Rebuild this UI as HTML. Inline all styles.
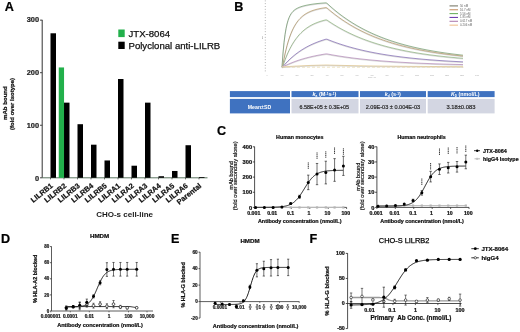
<!DOCTYPE html>
<html><head><meta charset="utf-8"><style>
html,body{margin:0;padding:0;background:#fff;width:520px;height:332px;overflow:hidden}
svg{display:block;font-family:"Liberation Sans", Arial, sans-serif}
</style></head><body>
<svg width="520" height="332" viewBox="0 0 520 332">
<rect width="520" height="332" fill="#fff"/>
<text x="4.80" y="10.80" font-size="12.6" font-weight="bold" text-anchor="start" fill="#000" stroke="#000" stroke-width="0.22">A</text>
<text x="234.30" y="10.80" font-size="12.6" font-weight="bold" text-anchor="start" fill="#000" stroke="#000" stroke-width="0.22">B</text>
<text x="217.00" y="135.20" font-size="12.6" font-weight="bold" text-anchor="start" fill="#000" stroke="#000" stroke-width="0.22">C</text>
<text x="1.00" y="242.80" font-size="12.6" font-weight="bold" text-anchor="start" fill="#000" stroke="#000" stroke-width="0.22">D</text>
<text x="170.90" y="243.00" font-size="12.6" font-weight="bold" text-anchor="start" fill="#000" stroke="#000" stroke-width="0.22">E</text>
<text x="309.60" y="242.80" font-size="12.6" font-weight="bold" text-anchor="start" fill="#000" stroke="#000" stroke-width="0.22">F</text>
<line x1="42.20" y1="19.85" x2="42.20" y2="177.80" stroke="#333" stroke-width="1.0"/>
<line x1="40.00" y1="20.15" x2="42.20" y2="20.15" stroke="#333" stroke-width="0.9"/>
<text x="39.00" y="21.85" font-size="7.4" font-weight="bold" text-anchor="end" fill="#222" stroke="#222" stroke-width="0.22">300</text>
<line x1="40.00" y1="72.70" x2="42.20" y2="72.70" stroke="#333" stroke-width="0.9"/>
<text x="39.00" y="75.00" font-size="7.4" font-weight="bold" text-anchor="end" fill="#222" stroke="#222" stroke-width="0.22">200</text>
<line x1="40.00" y1="125.25" x2="42.20" y2="125.25" stroke="#333" stroke-width="0.9"/>
<text x="39.00" y="128.15" font-size="7.4" font-weight="bold" text-anchor="end" fill="#222" stroke="#222" stroke-width="0.22">100</text>
<line x1="40.00" y1="177.80" x2="42.20" y2="177.80" stroke="#333" stroke-width="0.9"/>
<text x="39.00" y="181.30" font-size="7.4" font-weight="bold" text-anchor="end" fill="#222" stroke="#222" stroke-width="0.22">0</text>
<line x1="42.20" y1="177.80" x2="207.50" y2="177.80" stroke="#4a6650" stroke-width="0.9"/>
<rect x="50.50" y="33.29" width="5.50" height="144.51" fill="#000"/>
<line x1="50.50" y1="177.80" x2="50.50" y2="179.40" stroke="#333" stroke-width="0.7"/>
<text x="53.45" y="186.60" font-size="7.4" font-weight="bold" text-anchor="end" fill="#111" transform="rotate(-39 53.45 186.60)" stroke="#111" stroke-width="0.22">LILRB1</text>
<rect x="64.00" y="102.65" width="5.50" height="75.15" fill="#000"/>
<line x1="64.00" y1="177.80" x2="64.00" y2="179.40" stroke="#333" stroke-width="0.7"/>
<text x="66.95" y="186.60" font-size="7.4" font-weight="bold" text-anchor="end" fill="#111" transform="rotate(-39 66.95 186.60)" stroke="#111" stroke-width="0.22">LILRB2</text>
<rect x="77.50" y="124.20" width="5.50" height="53.60" fill="#000"/>
<line x1="77.50" y1="177.80" x2="77.50" y2="179.40" stroke="#333" stroke-width="0.7"/>
<text x="80.45" y="186.60" font-size="7.4" font-weight="bold" text-anchor="end" fill="#111" transform="rotate(-39 80.45 186.60)" stroke="#111" stroke-width="0.22">LILRB3</text>
<rect x="91.00" y="144.69" width="5.50" height="33.11" fill="#000"/>
<line x1="91.00" y1="177.80" x2="91.00" y2="179.40" stroke="#333" stroke-width="0.7"/>
<text x="93.95" y="186.60" font-size="7.4" font-weight="bold" text-anchor="end" fill="#111" transform="rotate(-39 93.95 186.60)" stroke="#111" stroke-width="0.22">LILRB4</text>
<rect x="104.50" y="160.46" width="5.50" height="17.34" fill="#000"/>
<line x1="104.50" y1="177.80" x2="104.50" y2="179.40" stroke="#333" stroke-width="0.7"/>
<text x="107.45" y="186.60" font-size="7.4" font-weight="bold" text-anchor="end" fill="#111" transform="rotate(-39 107.45 186.60)" stroke="#111" stroke-width="0.22">LILRB5</text>
<rect x="118.00" y="79.01" width="5.50" height="98.79" fill="#000"/>
<line x1="118.00" y1="177.80" x2="118.00" y2="179.40" stroke="#333" stroke-width="0.7"/>
<text x="120.95" y="186.60" font-size="7.4" font-weight="bold" text-anchor="end" fill="#111" transform="rotate(-39 120.95 186.60)" stroke="#111" stroke-width="0.22">LILRA1</text>
<rect x="131.50" y="165.71" width="5.50" height="12.09" fill="#000"/>
<line x1="131.50" y1="177.80" x2="131.50" y2="179.40" stroke="#333" stroke-width="0.7"/>
<text x="134.45" y="186.60" font-size="7.4" font-weight="bold" text-anchor="end" fill="#111" transform="rotate(-39 134.45 186.60)" stroke="#111" stroke-width="0.22">LILRA2</text>
<rect x="145.00" y="102.65" width="5.50" height="75.15" fill="#000"/>
<line x1="145.00" y1="177.80" x2="145.00" y2="179.40" stroke="#333" stroke-width="0.7"/>
<text x="147.95" y="186.60" font-size="7.4" font-weight="bold" text-anchor="end" fill="#111" transform="rotate(-39 147.95 186.60)" stroke="#111" stroke-width="0.22">LILRA3</text>
<rect x="158.50" y="176.22" width="5.50" height="1.58" fill="#000"/>
<line x1="158.50" y1="177.80" x2="158.50" y2="179.40" stroke="#333" stroke-width="0.7"/>
<text x="161.45" y="186.60" font-size="7.4" font-weight="bold" text-anchor="end" fill="#111" transform="rotate(-39 161.45 186.60)" stroke="#111" stroke-width="0.22">LILRA4</text>
<rect x="172.00" y="170.97" width="5.50" height="6.83" fill="#000"/>
<line x1="172.00" y1="177.80" x2="172.00" y2="179.40" stroke="#333" stroke-width="0.7"/>
<text x="174.95" y="186.60" font-size="7.4" font-weight="bold" text-anchor="end" fill="#111" transform="rotate(-39 174.95 186.60)" stroke="#111" stroke-width="0.22">LILRA5</text>
<rect x="185.50" y="145.22" width="5.50" height="32.58" fill="#000"/>
<line x1="185.50" y1="177.80" x2="185.50" y2="179.40" stroke="#333" stroke-width="0.7"/>
<text x="188.45" y="186.60" font-size="7.4" font-weight="bold" text-anchor="end" fill="#111" transform="rotate(-39 188.45 186.60)" stroke="#111" stroke-width="0.22">LILRA6</text>
<rect x="199.00" y="177.01" width="5.50" height="0.79" fill="#000"/>
<line x1="199.00" y1="177.80" x2="199.00" y2="179.40" stroke="#333" stroke-width="0.7"/>
<text x="201.95" y="186.60" font-size="7.4" font-weight="bold" text-anchor="end" fill="#111" transform="rotate(-39 201.95 186.60)" stroke="#111" stroke-width="0.22">Parental</text>
<rect x="58.75" y="67.45" width="5.30" height="110.35" fill="#22b04b"/>
<rect x="118.30" y="29.50" width="6.40" height="7.60" fill="#22b04b"/>
<text x="128.50" y="36.50" font-size="9.6" text-anchor="start" fill="#111" stroke="#111" stroke-width="0.25">JTX-8064</text>
<rect x="118.30" y="41.70" width="6.40" height="7.30" fill="#000"/>
<text x="128.50" y="48.50" font-size="9.6" text-anchor="start" fill="#111" stroke="#111" stroke-width="0.25">Polyclonal anti-LILRB</text>
<text x="6.60" y="103.10" font-size="6.1" font-weight="bold" text-anchor="middle" fill="#111" transform="rotate(-90 6.60 103.10)" stroke="#111" stroke-width="0.22">mAb bound</text>
<text x="13.70" y="104.00" font-size="6.0" font-weight="bold" text-anchor="middle" fill="#111" transform="rotate(-90 13.70 104.00)" stroke="#111" stroke-width="0.22">(fold over Isotype)</text>
<text x="124.60" y="217.00" font-size="8.0" font-weight="bold" text-anchor="middle" fill="#1a1a1a" stroke-width="0">CHO-s cell-line</text>
<line x1="265.30" y1="0.50" x2="265.30" y2="73.00" stroke="#8a8a8a" stroke-width="0.8" stroke-dasharray="0.8,2.0"/>
<text x="267.00" y="75.80" font-size="1.9" text-anchor="middle" fill="#a8a8a8">0</text>
<text x="282.00" y="75.80" font-size="1.9" text-anchor="middle" fill="#a8a8a8">100</text>
<text x="297.00" y="75.80" font-size="1.9" text-anchor="middle" fill="#a8a8a8">200</text>
<text x="312.00" y="75.80" font-size="1.9" text-anchor="middle" fill="#a8a8a8">300</text>
<text x="327.00" y="75.80" font-size="1.9" text-anchor="middle" fill="#a8a8a8">400</text>
<text x="342.00" y="75.80" font-size="1.9" text-anchor="middle" fill="#a8a8a8">500</text>
<text x="357.00" y="75.80" font-size="1.9" text-anchor="middle" fill="#a8a8a8">600</text>
<text x="372.00" y="75.80" font-size="1.9" text-anchor="middle" fill="#a8a8a8">700</text>
<text x="387.00" y="75.80" font-size="1.9" text-anchor="middle" fill="#a8a8a8">800</text>
<text x="402.00" y="75.80" font-size="1.9" text-anchor="middle" fill="#a8a8a8">900</text>
<text x="417.00" y="75.80" font-size="1.9" text-anchor="middle" fill="#a8a8a8">1000</text>
<text x="432.00" y="75.80" font-size="1.9" text-anchor="middle" fill="#a8a8a8">1100</text>
<text x="447.00" y="75.80" font-size="1.9" text-anchor="middle" fill="#a8a8a8">1200</text>
<text x="462.00" y="75.80" font-size="1.9" text-anchor="middle" fill="#a8a8a8">1300</text>
<text x="477.00" y="75.80" font-size="1.9" text-anchor="middle" fill="#a8a8a8">1400</text>
<text x="262.60" y="37.50" font-size="2.4" text-anchor="middle" fill="#888" transform="rotate(-90 262.60 37.50)">RU</text>
<text x="372.00" y="77.60" font-size="2.2" text-anchor="middle" fill="#aaa">Time (s)</text>
<polyline points="282.00,67.00 283.00,53.07 284.00,42.58 285.00,34.65 286.00,28.61 287.00,24.00 288.00,20.45 289.00,17.68 290.00,15.52 291.00,13.80 292.00,12.42 293.00,11.29 294.00,10.36 295.00,9.59 296.00,8.93 297.00,8.36 298.00,7.86 299.00,7.42 300.00,7.03 301.00,6.68 302.00,6.36 303.00,6.07 304.00,5.80 305.00,5.55 306.00,5.32 307.00,5.11 308.00,4.91 309.00,4.72 310.00,4.55 311.00,4.38 312.00,4.23 313.00,4.09 314.00,3.95 315.00,3.82 316.00,3.70 317.00,3.59 318.00,3.48 319.00,3.38 320.00,3.29 321.00,3.20 322.00,3.12 323.00,3.04 324.00,2.97 325.00,2.90 326.00,2.83 327.00,3.27 329.00,5.12 331.00,6.91 333.00,8.65 335.00,10.32 337.00,11.95 339.00,13.52 341.00,15.04 343.00,16.52 345.00,17.94 347.00,19.32 349.00,20.66 351.00,21.95 353.00,23.21 355.00,24.42 357.00,25.60 359.00,26.73 361.00,27.84 363.00,28.90 365.00,29.94 367.00,30.94 369.00,31.90 371.00,32.84 373.00,33.75 375.00,34.63 377.00,35.48 379.00,36.31 381.00,37.10 383.00,37.88 385.00,38.63 387.00,39.35 389.00,40.06 391.00,40.74 393.00,41.40 395.00,42.04 397.00,42.66 399.00,43.26 401.00,43.84 403.00,44.40 405.00,44.95 407.00,45.47 409.00,45.99 411.00,46.48 413.00,46.96 415.00,47.43 417.00,47.88 419.00,48.32 421.00,48.74 423.00,49.15 425.00,49.55 427.00,49.94 429.00,50.31 431.00,50.68 433.00,51.03 435.00,51.37 437.00,51.70 439.00,52.02 441.00,52.33 443.00,52.63 445.00,52.93 447.00,53.21 449.00,53.48 451.00,53.75 453.00,54.01 455.00,54.26 457.00,54.51 459.00,54.74 461.00,54.97 463.00,55.20" fill="none" stroke="#8cb088" stroke-width="0.9"/>
<polyline points="282.00,67.70 283.00,53.77 284.00,43.28 285.00,35.35 286.00,29.31 287.00,24.70 288.00,21.15 289.00,18.38 290.00,16.22 291.00,14.50 292.00,13.12 293.00,11.99 294.00,11.06 295.00,10.29 296.00,9.63 297.00,9.06 298.00,8.56 299.00,8.12 300.00,7.73 301.00,7.38 302.00,7.06 303.00,6.77 304.00,6.50 305.00,6.25 306.00,6.02 307.00,5.81 308.00,5.61 309.00,5.42 310.00,5.25 311.00,5.08 312.00,4.93 313.00,4.79 314.00,4.65 315.00,4.52 316.00,4.40 317.00,4.29 318.00,4.18 319.00,4.08 320.00,3.99 321.00,3.90 322.00,3.82 323.00,3.74 324.00,3.67 325.00,3.60 326.00,3.53 327.00,3.97 329.00,5.82 331.00,7.61 333.00,9.35 335.00,11.02 337.00,12.65 339.00,14.22 341.00,15.74 343.00,17.22 345.00,18.64 347.00,20.02 349.00,21.36 351.00,22.65 353.00,23.91 355.00,25.12 357.00,26.30 359.00,27.43 361.00,28.54 363.00,29.60 365.00,30.64 367.00,31.64 369.00,32.60 371.00,33.54 373.00,34.45 375.00,35.33 377.00,36.18 379.00,37.01 381.00,37.80 383.00,38.58 385.00,39.33 387.00,40.05 389.00,40.76 391.00,41.44 393.00,42.10 395.00,42.74 397.00,43.36 399.00,43.96 401.00,44.54 403.00,45.10 405.00,45.65 407.00,46.17 409.00,46.69 411.00,47.18 413.00,47.66 415.00,48.13 417.00,48.58 419.00,49.02 421.00,49.44 423.00,49.85 425.00,50.25 427.00,50.64 429.00,51.01 431.00,51.38 433.00,51.73 435.00,52.07 437.00,52.40 439.00,52.72 441.00,53.03 443.00,53.33 445.00,53.63 447.00,53.91 449.00,54.18 451.00,54.45 453.00,54.71 455.00,54.96 457.00,55.21 459.00,55.44 461.00,55.67 463.00,55.90" fill="none" stroke="#707070" stroke-width="0.45" stroke-opacity="0.55"/>
<polyline points="282.00,67.00 283.00,64.11 284.00,58.76 285.00,53.94 286.00,49.58 287.00,45.65 288.00,42.11 289.00,38.90 290.00,36.00 291.00,33.38 292.00,31.01 293.00,28.86 294.00,26.91 295.00,25.15 296.00,23.54 297.00,22.09 298.00,20.76 299.00,19.56 300.00,18.46 301.00,17.47 302.00,16.56 303.00,15.72 304.00,14.96 305.00,14.27 306.00,13.63 307.00,13.05 308.00,12.51 309.00,12.02 310.00,11.57 311.00,11.15 312.00,10.77 313.00,10.41 314.00,10.08 315.00,9.78 316.00,9.50 317.00,9.24 318.00,9.00 319.00,8.77 320.00,8.56 321.00,8.37 322.00,8.19 323.00,8.02 324.00,7.86 325.00,7.71 326.00,7.57 327.00,7.94 329.00,9.65 331.00,11.31 333.00,12.92 335.00,14.47 337.00,15.98 339.00,17.43 341.00,18.85 343.00,20.21 345.00,21.53 347.00,22.81 349.00,24.05 351.00,25.25 353.00,26.41 355.00,27.54 357.00,28.63 359.00,29.68 361.00,30.70 363.00,31.69 365.00,32.65 367.00,33.58 369.00,34.47 371.00,35.34 373.00,36.18 375.00,37.00 377.00,37.79 379.00,38.55 381.00,39.29 383.00,40.01 385.00,40.71 387.00,41.38 389.00,42.03 391.00,42.66 393.00,43.27 395.00,43.86 397.00,44.44 399.00,44.99 401.00,45.53 403.00,46.05 405.00,46.56 407.00,47.05 409.00,47.52 411.00,47.98 413.00,48.43 415.00,48.86 417.00,49.28 419.00,49.69 421.00,50.08 423.00,50.46 425.00,50.83 427.00,51.19 429.00,51.53 431.00,51.87 433.00,52.20 435.00,52.51 437.00,52.82 439.00,53.12 441.00,53.41 443.00,53.68 445.00,53.96 447.00,54.22 449.00,54.47 451.00,54.72 453.00,54.96 455.00,55.19 457.00,55.42 459.00,55.64 461.00,55.85 463.00,56.06" fill="none" stroke="#c4ac80" stroke-width="0.9"/>
<polyline points="282.00,67.70 283.00,64.81 284.00,59.46 285.00,54.64 286.00,50.28 287.00,46.35 288.00,42.81 289.00,39.60 290.00,36.70 291.00,34.08 292.00,31.71 293.00,29.56 294.00,27.61 295.00,25.85 296.00,24.24 297.00,22.79 298.00,21.46 299.00,20.26 300.00,19.16 301.00,18.17 302.00,17.26 303.00,16.42 304.00,15.66 305.00,14.97 306.00,14.33 307.00,13.75 308.00,13.21 309.00,12.72 310.00,12.27 311.00,11.85 312.00,11.47 313.00,11.11 314.00,10.78 315.00,10.48 316.00,10.20 317.00,9.94 318.00,9.70 319.00,9.47 320.00,9.26 321.00,9.07 322.00,8.89 323.00,8.72 324.00,8.56 325.00,8.41 326.00,8.27 327.00,8.64 329.00,10.35 331.00,12.01 333.00,13.62 335.00,15.17 337.00,16.68 339.00,18.13 341.00,19.55 343.00,20.91 345.00,22.23 347.00,23.51 349.00,24.75 351.00,25.95 353.00,27.11 355.00,28.24 357.00,29.33 359.00,30.38 361.00,31.40 363.00,32.39 365.00,33.35 367.00,34.28 369.00,35.17 371.00,36.04 373.00,36.88 375.00,37.70 377.00,38.49 379.00,39.25 381.00,39.99 383.00,40.71 385.00,41.41 387.00,42.08 389.00,42.73 391.00,43.36 393.00,43.97 395.00,44.56 397.00,45.14 399.00,45.69 401.00,46.23 403.00,46.75 405.00,47.26 407.00,47.75 409.00,48.22 411.00,48.68 413.00,49.13 415.00,49.56 417.00,49.98 419.00,50.39 421.00,50.78 423.00,51.16 425.00,51.53 427.00,51.89 429.00,52.23 431.00,52.57 433.00,52.90 435.00,53.21 437.00,53.52 439.00,53.82 441.00,54.11 443.00,54.38 445.00,54.66 447.00,54.92 449.00,55.17 451.00,55.42 453.00,55.66 455.00,55.89 457.00,56.12 459.00,56.34 461.00,56.55 463.00,56.76" fill="none" stroke="#707070" stroke-width="0.45" stroke-opacity="0.55"/>
<polyline points="282.00,67.00 283.00,65.47 284.00,62.56 285.00,59.82 286.00,57.24 287.00,54.82 288.00,52.55 289.00,50.41 290.00,48.40 291.00,46.51 292.00,44.74 293.00,43.07 294.00,41.49 295.00,40.02 296.00,38.63 297.00,37.32 298.00,36.09 299.00,34.93 300.00,33.84 301.00,32.81 302.00,31.85 303.00,30.94 304.00,30.08 305.00,29.27 306.00,28.51 307.00,27.80 308.00,27.12 309.00,26.49 310.00,25.89 311.00,25.32 312.00,24.79 313.00,24.28 314.00,23.81 315.00,23.36 316.00,22.94 317.00,22.54 318.00,22.17 319.00,21.81 320.00,21.47 321.00,21.16 322.00,20.86 323.00,20.57 324.00,20.31 325.00,20.05 326.00,19.81 327.00,20.05 329.00,21.41 331.00,22.73 333.00,24.01 335.00,25.24 337.00,26.44 339.00,27.60 341.00,28.72 343.00,29.80 345.00,30.86 347.00,31.87 349.00,32.86 351.00,33.81 353.00,34.74 355.00,35.63 357.00,36.50 359.00,37.33 361.00,38.15 363.00,38.93 365.00,39.69 367.00,40.43 369.00,41.14 371.00,41.83 373.00,42.50 375.00,43.15 377.00,43.78 379.00,44.39 381.00,44.97 383.00,45.54 385.00,46.10 387.00,46.63 389.00,47.15 391.00,47.65 393.00,48.14 395.00,48.61 397.00,49.06 399.00,49.51 401.00,49.93 403.00,50.35 405.00,50.75 407.00,51.14 409.00,51.52 411.00,51.88 413.00,52.24 415.00,52.58 417.00,52.91 419.00,53.24 421.00,53.55 423.00,53.85 425.00,54.14 427.00,54.43 429.00,54.71 431.00,54.97 433.00,55.23 435.00,55.48 437.00,55.73 439.00,55.96 441.00,56.19 443.00,56.42 445.00,56.63 447.00,56.84 449.00,57.04 451.00,57.24 453.00,57.43 455.00,57.62 457.00,57.80 459.00,57.97 461.00,58.14 463.00,58.30" fill="none" stroke="#a4c496" stroke-width="0.9"/>
<polyline points="282.00,67.70 283.00,66.17 284.00,63.26 285.00,60.52 286.00,57.94 287.00,55.52 288.00,53.25 289.00,51.11 290.00,49.10 291.00,47.21 292.00,45.44 293.00,43.77 294.00,42.19 295.00,40.72 296.00,39.33 297.00,38.02 298.00,36.79 299.00,35.63 300.00,34.54 301.00,33.51 302.00,32.55 303.00,31.64 304.00,30.78 305.00,29.97 306.00,29.21 307.00,28.50 308.00,27.82 309.00,27.19 310.00,26.59 311.00,26.02 312.00,25.49 313.00,24.98 314.00,24.51 315.00,24.06 316.00,23.64 317.00,23.24 318.00,22.87 319.00,22.51 320.00,22.17 321.00,21.86 322.00,21.56 323.00,21.27 324.00,21.01 325.00,20.75 326.00,20.51 327.00,20.75 329.00,22.11 331.00,23.43 333.00,24.71 335.00,25.94 337.00,27.14 339.00,28.30 341.00,29.42 343.00,30.50 345.00,31.56 347.00,32.57 349.00,33.56 351.00,34.51 353.00,35.44 355.00,36.33 357.00,37.20 359.00,38.03 361.00,38.85 363.00,39.63 365.00,40.39 367.00,41.13 369.00,41.84 371.00,42.53 373.00,43.20 375.00,43.85 377.00,44.48 379.00,45.09 381.00,45.67 383.00,46.24 385.00,46.80 387.00,47.33 389.00,47.85 391.00,48.35 393.00,48.84 395.00,49.31 397.00,49.76 399.00,50.21 401.00,50.63 403.00,51.05 405.00,51.45 407.00,51.84 409.00,52.22 411.00,52.58 413.00,52.94 415.00,53.28 417.00,53.61 419.00,53.94 421.00,54.25 423.00,54.55 425.00,54.84 427.00,55.13 429.00,55.41 431.00,55.67 433.00,55.93 435.00,56.18 437.00,56.43 439.00,56.66 441.00,56.89 443.00,57.12 445.00,57.33 447.00,57.54 449.00,57.74 451.00,57.94 453.00,58.13 455.00,58.32 457.00,58.50 459.00,58.67 461.00,58.84 463.00,59.00" fill="none" stroke="#707070" stroke-width="0.45" stroke-opacity="0.55"/>
<polyline points="282.00,67.00 283.00,66.41 284.00,65.25 285.00,64.12 286.00,63.04 287.00,61.99 288.00,60.97 289.00,59.99 290.00,59.04 291.00,58.11 292.00,57.22 293.00,56.36 294.00,55.52 295.00,54.72 296.00,53.93 297.00,53.18 298.00,52.44 299.00,51.73 300.00,51.05 301.00,50.38 302.00,49.74 303.00,49.12 304.00,48.51 305.00,47.93 306.00,47.36 307.00,46.81 308.00,46.28 309.00,45.77 310.00,45.27 311.00,44.79 312.00,44.33 313.00,43.87 314.00,43.44 315.00,43.01 316.00,42.60 317.00,42.21 318.00,41.82 319.00,41.45 320.00,41.09 321.00,40.74 322.00,40.40 323.00,40.07 324.00,39.75 325.00,39.44 326.00,39.15 327.00,39.21 329.00,40.01 331.00,40.79 333.00,41.55 335.00,42.28 337.00,42.99 339.00,43.68 341.00,44.34 343.00,44.98 345.00,45.60 347.00,46.21 349.00,46.79 351.00,47.35 353.00,47.90 355.00,48.43 357.00,48.94 359.00,49.44 361.00,49.92 363.00,50.38 365.00,50.83 367.00,51.27 369.00,51.69 371.00,52.10 373.00,52.50 375.00,52.88 377.00,53.25 379.00,53.61 381.00,53.96 383.00,54.30 385.00,54.63 387.00,54.94 389.00,55.25 391.00,55.55 393.00,55.83 395.00,56.11 397.00,56.38 399.00,56.64 401.00,56.90 403.00,57.14 405.00,57.38 407.00,57.61 409.00,57.83 411.00,58.05 413.00,58.26 415.00,58.46 417.00,58.66 419.00,58.85 421.00,59.04 423.00,59.22 425.00,59.39 427.00,59.56 429.00,59.72 431.00,59.88 433.00,60.03 435.00,60.18 437.00,60.33 439.00,60.47 441.00,60.60 443.00,60.73 445.00,60.86 447.00,60.99 449.00,61.11 451.00,61.22 453.00,61.34 455.00,61.44 457.00,61.55 459.00,61.65 461.00,61.75 463.00,61.85" fill="none" stroke="#9884c4" stroke-width="0.9"/>
<polyline points="282.00,67.70 283.00,67.11 284.00,65.95 285.00,64.82 286.00,63.74 287.00,62.69 288.00,61.67 289.00,60.69 290.00,59.74 291.00,58.81 292.00,57.92 293.00,57.06 294.00,56.22 295.00,55.42 296.00,54.63 297.00,53.88 298.00,53.14 299.00,52.43 300.00,51.75 301.00,51.08 302.00,50.44 303.00,49.82 304.00,49.21 305.00,48.63 306.00,48.06 307.00,47.51 308.00,46.98 309.00,46.47 310.00,45.97 311.00,45.49 312.00,45.03 313.00,44.57 314.00,44.14 315.00,43.71 316.00,43.30 317.00,42.91 318.00,42.52 319.00,42.15 320.00,41.79 321.00,41.44 322.00,41.10 323.00,40.77 324.00,40.45 325.00,40.14 326.00,39.85 327.00,39.91 329.00,40.71 331.00,41.49 333.00,42.25 335.00,42.98 337.00,43.69 339.00,44.38 341.00,45.04 343.00,45.68 345.00,46.30 347.00,46.91 349.00,47.49 351.00,48.05 353.00,48.60 355.00,49.13 357.00,49.64 359.00,50.14 361.00,50.62 363.00,51.08 365.00,51.53 367.00,51.97 369.00,52.39 371.00,52.80 373.00,53.20 375.00,53.58 377.00,53.95 379.00,54.31 381.00,54.66 383.00,55.00 385.00,55.33 387.00,55.64 389.00,55.95 391.00,56.25 393.00,56.53 395.00,56.81 397.00,57.08 399.00,57.34 401.00,57.60 403.00,57.84 405.00,58.08 407.00,58.31 409.00,58.53 411.00,58.75 413.00,58.96 415.00,59.16 417.00,59.36 419.00,59.55 421.00,59.74 423.00,59.92 425.00,60.09 427.00,60.26 429.00,60.42 431.00,60.58 433.00,60.73 435.00,60.88 437.00,61.03 439.00,61.17 441.00,61.30 443.00,61.43 445.00,61.56 447.00,61.69 449.00,61.81 451.00,61.92 453.00,62.04 455.00,62.14 457.00,62.25 459.00,62.35 461.00,62.45 463.00,62.55" fill="none" stroke="#707070" stroke-width="0.45" stroke-opacity="0.55"/>
<polyline points="282.00,67.00 283.00,66.74 284.00,66.23 285.00,65.73 286.00,65.25 287.00,64.78 288.00,64.33 289.00,63.89 290.00,63.46 291.00,63.04 292.00,62.63 293.00,62.24 294.00,61.85 295.00,61.48 296.00,61.12 297.00,60.77 298.00,60.42 299.00,60.09 300.00,59.77 301.00,59.45 302.00,59.14 303.00,58.85 304.00,58.56 305.00,58.28 306.00,58.00 307.00,57.74 308.00,57.48 309.00,57.23 310.00,56.98 311.00,56.75 312.00,56.51 313.00,56.29 314.00,56.07 315.00,55.86 316.00,55.65 317.00,55.45 318.00,55.26 319.00,55.07 320.00,54.88 321.00,54.70 322.00,54.53 323.00,54.36 324.00,54.19 325.00,54.03 326.00,53.88 327.00,53.90 329.00,54.28 331.00,54.65 333.00,55.00 335.00,55.35 337.00,55.68 339.00,56.00 341.00,56.32 343.00,56.62 345.00,56.91 347.00,57.20 349.00,57.47 351.00,57.74 353.00,58.00 355.00,58.25 357.00,58.49 359.00,58.72 361.00,58.95 363.00,59.17 365.00,59.38 367.00,59.58 369.00,59.78 371.00,59.98 373.00,60.16 375.00,60.34 377.00,60.52 379.00,60.69 381.00,60.85 383.00,61.01 385.00,61.17 387.00,61.32 389.00,61.46 391.00,61.60 393.00,61.74 395.00,61.87 397.00,61.99 399.00,62.12 401.00,62.24 403.00,62.35 405.00,62.47 407.00,62.57 409.00,62.68 411.00,62.78 413.00,62.88 415.00,62.98 417.00,63.07 419.00,63.16 421.00,63.25 423.00,63.33 425.00,63.41 427.00,63.49 429.00,63.57 431.00,63.64 433.00,63.72 435.00,63.79 437.00,63.85 439.00,63.92 441.00,63.98 443.00,64.05 445.00,64.11 447.00,64.16 449.00,64.22 451.00,64.28 453.00,64.33 455.00,64.38 457.00,64.43 459.00,64.48 461.00,64.53 463.00,64.57" fill="none" stroke="#c4a0c8" stroke-width="0.9"/>
<polyline points="282.00,67.70 283.00,67.44 284.00,66.93 285.00,66.43 286.00,65.95 287.00,65.48 288.00,65.03 289.00,64.59 290.00,64.16 291.00,63.74 292.00,63.33 293.00,62.94 294.00,62.55 295.00,62.18 296.00,61.82 297.00,61.47 298.00,61.12 299.00,60.79 300.00,60.47 301.00,60.15 302.00,59.84 303.00,59.55 304.00,59.26 305.00,58.98 306.00,58.70 307.00,58.44 308.00,58.18 309.00,57.93 310.00,57.68 311.00,57.45 312.00,57.21 313.00,56.99 314.00,56.77 315.00,56.56 316.00,56.35 317.00,56.15 318.00,55.96 319.00,55.77 320.00,55.58 321.00,55.40 322.00,55.23 323.00,55.06 324.00,54.89 325.00,54.73 326.00,54.58 327.00,54.60 329.00,54.98 331.00,55.35 333.00,55.70 335.00,56.05 337.00,56.38 339.00,56.70 341.00,57.02 343.00,57.32 345.00,57.61 347.00,57.90 349.00,58.17 351.00,58.44 353.00,58.70 355.00,58.95 357.00,59.19 359.00,59.42 361.00,59.65 363.00,59.87 365.00,60.08 367.00,60.28 369.00,60.48 371.00,60.68 373.00,60.86 375.00,61.04 377.00,61.22 379.00,61.39 381.00,61.55 383.00,61.71 385.00,61.87 387.00,62.02 389.00,62.16 391.00,62.30 393.00,62.44 395.00,62.57 397.00,62.69 399.00,62.82 401.00,62.94 403.00,63.05 405.00,63.17 407.00,63.27 409.00,63.38 411.00,63.48 413.00,63.58 415.00,63.68 417.00,63.77 419.00,63.86 421.00,63.95 423.00,64.03 425.00,64.11 427.00,64.19 429.00,64.27 431.00,64.34 433.00,64.42 435.00,64.49 437.00,64.55 439.00,64.62 441.00,64.68 443.00,64.75 445.00,64.81 447.00,64.86 449.00,64.92 451.00,64.98 453.00,65.03 455.00,65.08 457.00,65.13 459.00,65.18 461.00,65.23 463.00,65.27" fill="none" stroke="#707070" stroke-width="0.45" stroke-opacity="0.55"/>
<polyline points="282.00,67.00 283.00,66.92 284.00,66.84 285.00,66.77 286.00,66.69 287.00,66.62 288.00,66.55 289.00,66.49 290.00,66.42 291.00,66.36 292.00,66.30 293.00,66.24 294.00,66.18 295.00,66.12 296.00,66.07 297.00,66.02 298.00,65.97 299.00,65.92 300.00,65.87 301.00,65.82 302.00,65.78 303.00,65.73 304.00,65.69 305.00,65.65 306.00,65.61 307.00,65.57 308.00,65.53 309.00,65.49 310.00,65.46 311.00,65.42 312.00,65.39 313.00,65.36 314.00,65.32 315.00,65.29 316.00,65.26 317.00,65.24 318.00,65.21 319.00,65.18 320.00,65.15 321.00,65.13 322.00,65.10 323.00,65.08 324.00,65.06 325.00,65.03 326.00,65.01 327.00,65.01 329.00,65.07 331.00,65.13 333.00,65.18 335.00,65.23 337.00,65.28 339.00,65.33 341.00,65.38 343.00,65.43 345.00,65.47 347.00,65.51 349.00,65.56 351.00,65.60 353.00,65.64 355.00,65.67 357.00,65.71 359.00,65.75 361.00,65.78 363.00,65.81 365.00,65.85 367.00,65.88 369.00,65.91 371.00,65.94 373.00,65.96 375.00,65.99 377.00,66.02 379.00,66.04 381.00,66.07 383.00,66.09 385.00,66.12 387.00,66.14 389.00,66.16 391.00,66.18 393.00,66.20 395.00,66.22 397.00,66.24 399.00,66.26 401.00,66.28 403.00,66.30 405.00,66.31 407.00,66.33 409.00,66.35 411.00,66.36 413.00,66.38 415.00,66.39 417.00,66.40 419.00,66.42 421.00,66.43 423.00,66.44 425.00,66.46 427.00,66.47 429.00,66.48 431.00,66.49 433.00,66.50 435.00,66.51 437.00,66.52 439.00,66.53 441.00,66.54 443.00,66.55 445.00,66.56 447.00,66.57 449.00,66.58 451.00,66.59 453.00,66.60 455.00,66.60 457.00,66.61 459.00,66.62 461.00,66.63 463.00,66.63" fill="none" stroke="#e8d0a0" stroke-width="0.9"/>
<polyline points="282.00,67.70 283.00,67.62 284.00,67.54 285.00,67.47 286.00,67.39 287.00,67.32 288.00,67.25 289.00,67.19 290.00,67.12 291.00,67.06 292.00,67.00 293.00,66.94 294.00,66.88 295.00,66.82 296.00,66.77 297.00,66.72 298.00,66.67 299.00,66.62 300.00,66.57 301.00,66.52 302.00,66.48 303.00,66.43 304.00,66.39 305.00,66.35 306.00,66.31 307.00,66.27 308.00,66.23 309.00,66.19 310.00,66.16 311.00,66.12 312.00,66.09 313.00,66.06 314.00,66.02 315.00,65.99 316.00,65.96 317.00,65.94 318.00,65.91 319.00,65.88 320.00,65.85 321.00,65.83 322.00,65.80 323.00,65.78 324.00,65.76 325.00,65.73 326.00,65.71 327.00,65.71 329.00,65.77 331.00,65.83 333.00,65.88 335.00,65.93 337.00,65.98 339.00,66.03 341.00,66.08 343.00,66.13 345.00,66.17 347.00,66.21 349.00,66.26 351.00,66.30 353.00,66.34 355.00,66.37 357.00,66.41 359.00,66.45 361.00,66.48 363.00,66.51 365.00,66.55 367.00,66.58 369.00,66.61 371.00,66.64 373.00,66.66 375.00,66.69 377.00,66.72 379.00,66.74 381.00,66.77 383.00,66.79 385.00,66.82 387.00,66.84 389.00,66.86 391.00,66.88 393.00,66.90 395.00,66.92 397.00,66.94 399.00,66.96 401.00,66.98 403.00,67.00 405.00,67.01 407.00,67.03 409.00,67.05 411.00,67.06 413.00,67.08 415.00,67.09 417.00,67.10 419.00,67.12 421.00,67.13 423.00,67.14 425.00,67.16 427.00,67.17 429.00,67.18 431.00,67.19 433.00,67.20 435.00,67.21 437.00,67.22 439.00,67.23 441.00,67.24 443.00,67.25 445.00,67.26 447.00,67.27 449.00,67.28 451.00,67.29 453.00,67.30 455.00,67.30 457.00,67.31 459.00,67.32 461.00,67.33 463.00,67.33" fill="none" stroke="#707070" stroke-width="0.45" stroke-opacity="0.55"/>
<line x1="282.00" y1="67.20" x2="463.50" y2="67.20" stroke="#e8dcb4" stroke-width="0.8" stroke-dasharray="3,2"/>
<line x1="449.50" y1="5.90" x2="458.00" y2="5.90" stroke="#7a7a6a" stroke-width="1.1"/>
<text x="460.00" y="6.90" font-size="2.9" text-anchor="start" fill="#666">50 nM</text>
<line x1="449.50" y1="9.75" x2="458.00" y2="9.75" stroke="#c8956a" stroke-width="1.1"/>
<text x="460.00" y="10.75" font-size="2.9" text-anchor="start" fill="#666">16.7 nM</text>
<line x1="449.50" y1="13.60" x2="458.00" y2="13.60" stroke="#6db060" stroke-width="1.1"/>
<text x="460.00" y="14.60" font-size="2.9" text-anchor="start" fill="#666">5.56 nM</text>
<line x1="449.50" y1="17.45" x2="458.00" y2="17.45" stroke="#7040b0" stroke-width="1.1"/>
<text x="460.00" y="18.45" font-size="2.9" text-anchor="start" fill="#666">1.85 nM</text>
<line x1="449.50" y1="21.30" x2="458.00" y2="21.30" stroke="#b080b0" stroke-width="1.1"/>
<text x="460.00" y="22.30" font-size="2.9" text-anchor="start" fill="#666">0.617 nM</text>
<line x1="449.50" y1="25.15" x2="458.00" y2="25.15" stroke="#f0c090" stroke-width="1.1"/>
<text x="460.00" y="26.15" font-size="2.9" text-anchor="start" fill="#666">0.206 nM</text>
<rect x="229.90" y="91.10" width="60.10" height="6.00" fill="#3f72c0"/>
<rect x="291.50" y="91.10" width="67.00" height="6.00" fill="#3f72c0"/>
<rect x="360.00" y="91.10" width="66.00" height="6.00" fill="#3f72c0"/>
<rect x="427.70" y="91.10" width="66.90" height="6.00" fill="#3f72c0"/>
<rect x="229.90" y="98.90" width="60.10" height="14.50" fill="#3f72c0"/>
<rect x="291.50" y="98.90" width="67.00" height="14.50" fill="#d3d6e2"/>
<rect x="360.00" y="98.90" width="66.00" height="14.50" fill="#d3d6e2"/>
<rect x="427.70" y="98.90" width="66.90" height="14.50" fill="#d3d6e2"/>
<text x="324.40" y="96.20" font-size="5.9" font-weight="bold" text-anchor="middle" fill="#fff" textLength="24.0" lengthAdjust="spacingAndGlyphs"><tspan font-style="italic">k</tspan><tspan font-size="3.4" dy="1">a</tspan><tspan dy="-1"> (M</tspan><tspan font-size="3.4" dy="-1.6">-1</tspan><tspan dy="1.6">s</tspan><tspan font-size="3.4" dy="-1.6">-1</tspan><tspan dy="1.6">)</tspan></text>
<text x="392.80" y="96.20" font-size="5.9" font-weight="bold" text-anchor="middle" fill="#fff" textLength="16.0" lengthAdjust="spacingAndGlyphs"><tspan font-style="italic">k</tspan><tspan font-size="3.4" dy="1">d</tspan><tspan dy="-1"> (s</tspan><tspan font-size="3.4" dy="-1.6">-1</tspan><tspan dy="1.6">)</tspan></text>
<text x="465.20" y="96.20" font-size="5.9" font-weight="bold" text-anchor="middle" fill="#fff" textLength="28.5" lengthAdjust="spacingAndGlyphs"><tspan font-style="italic">K</tspan><tspan font-size="3.4" dy="1">D</tspan><tspan dy="-1"> (nmol/L)</tspan></text>
<text x="259.50" y="108.90" font-size="5.8" font-weight="bold" text-anchor="middle" fill="#fff" textLength="23.5" lengthAdjust="spacingAndGlyphs">Mean±SD</text>
<text x="324.30" y="109.00" font-size="6.25" stroke="#2a2a2a" stroke-width="0.22" text-anchor="middle" fill="#2a2a2a" textLength="49.5" lengthAdjust="spacingAndGlyphs">6.58E+05 ± 0.3E+05</text>
<text x="392.90" y="109.00" font-size="6.25" stroke="#2a2a2a" stroke-width="0.22" text-anchor="middle" fill="#2a2a2a" textLength="54.5" lengthAdjust="spacingAndGlyphs">2.09E-03 ± 0.004E-03</text>
<text x="460.90" y="109.00" font-size="6.25" stroke="#2a2a2a" stroke-width="0.22" text-anchor="middle" fill="#2a2a2a" textLength="29.0" lengthAdjust="spacingAndGlyphs">3.18±0.083</text>
<line x1="254.60" y1="146.60" x2="254.60" y2="207.40" stroke="#222" stroke-width="0.8"/>
<line x1="252.80" y1="207.40" x2="254.60" y2="207.40" stroke="#222" stroke-width="0.8"/>
<text x="252.10" y="209.50" font-size="5.7" font-weight="bold" text-anchor="end" fill="#111" stroke="#111" stroke-width="0.22">0</text>
<line x1="252.80" y1="192.25" x2="254.60" y2="192.25" stroke="#222" stroke-width="0.8"/>
<text x="252.10" y="194.35" font-size="5.7" font-weight="bold" text-anchor="end" fill="#111" stroke="#111" stroke-width="0.22">100</text>
<line x1="252.80" y1="177.10" x2="254.60" y2="177.10" stroke="#222" stroke-width="0.8"/>
<text x="252.10" y="179.20" font-size="5.7" font-weight="bold" text-anchor="end" fill="#111" stroke="#111" stroke-width="0.22">200</text>
<line x1="252.80" y1="161.95" x2="254.60" y2="161.95" stroke="#222" stroke-width="0.8"/>
<text x="252.10" y="164.05" font-size="5.7" font-weight="bold" text-anchor="end" fill="#111" stroke="#111" stroke-width="0.22">300</text>
<line x1="252.80" y1="146.80" x2="254.60" y2="146.80" stroke="#222" stroke-width="0.8"/>
<text x="252.10" y="148.90" font-size="5.7" font-weight="bold" text-anchor="end" fill="#111" stroke="#111" stroke-width="0.22">400</text>
<line x1="254.60" y1="207.40" x2="346.60" y2="207.40" stroke="#222" stroke-width="0.8"/>
<line x1="254.60" y1="207.40" x2="254.60" y2="209.00" stroke="#222" stroke-width="0.7"/>
<text x="253.80" y="215.10" font-size="5.2" font-weight="bold" text-anchor="middle" fill="#111" stroke="#111" stroke-width="0.22">0.001</text>
<line x1="273.00" y1="207.40" x2="273.00" y2="209.00" stroke="#222" stroke-width="0.7"/>
<text x="272.20" y="215.10" font-size="5.2" font-weight="bold" text-anchor="middle" fill="#111" stroke="#111" stroke-width="0.22">0.01</text>
<line x1="291.40" y1="207.40" x2="291.40" y2="209.00" stroke="#222" stroke-width="0.7"/>
<text x="290.60" y="215.10" font-size="5.2" font-weight="bold" text-anchor="middle" fill="#111" stroke="#111" stroke-width="0.22">0.1</text>
<line x1="309.80" y1="207.40" x2="309.80" y2="209.00" stroke="#222" stroke-width="0.7"/>
<text x="309.00" y="215.10" font-size="5.2" font-weight="bold" text-anchor="middle" fill="#111" stroke="#111" stroke-width="0.22">1</text>
<line x1="328.20" y1="207.40" x2="328.20" y2="209.00" stroke="#222" stroke-width="0.7"/>
<text x="327.40" y="215.10" font-size="5.2" font-weight="bold" text-anchor="middle" fill="#111" stroke="#111" stroke-width="0.22">10</text>
<line x1="346.60" y1="207.40" x2="346.60" y2="209.00" stroke="#222" stroke-width="0.7"/>
<text x="345.80" y="215.10" font-size="5.2" font-weight="bold" text-anchor="middle" fill="#111" stroke="#111" stroke-width="0.22">100</text>
<text x="299.70" y="223.00" font-size="5.42" font-weight="bold" text-anchor="middle" fill="#111" stroke="#111" stroke-width="0.22">Antibody concentration (nmol/L)</text>
<text x="276.10" y="138.60" font-size="5.3" font-weight="bold" text-anchor="start" fill="#111" stroke="#111" stroke-width="0.22">Human monocytes</text>
<text x="232.70" y="175.30" font-size="5.5" text-anchor="middle" fill="#111" transform="rotate(-90 232.70 175.30)" stroke="#111" stroke-width="0.18">mAb bound</text>
<text x="237.20" y="175.90" font-size="5.7" text-anchor="middle" fill="#111" transform="rotate(-90 237.20 175.90)" stroke="#111" stroke-width="0.18">(fold over secondary alone)</text>
<polyline points="255.57,207.48 264.35,207.48 273.13,207.48 281.91,207.48 290.69,207.48 299.47,207.48 308.25,207.48 317.03,207.48 325.81,207.48 334.58,207.48 343.36,207.48" fill="none" stroke="#bbb" stroke-width="1.0"/>
<rect x="254.47" y="206.38" width="2.20" height="2.20" fill="#b4b4b4"/>
<rect x="263.25" y="206.38" width="2.20" height="2.20" fill="#b4b4b4"/>
<rect x="272.03" y="206.38" width="2.20" height="2.20" fill="#b4b4b4"/>
<rect x="280.81" y="206.38" width="2.20" height="2.20" fill="#b4b4b4"/>
<rect x="289.59" y="206.38" width="2.20" height="2.20" fill="#b4b4b4"/>
<rect x="298.37" y="206.38" width="2.20" height="2.20" fill="#b4b4b4"/>
<rect x="307.15" y="206.38" width="2.20" height="2.20" fill="#b4b4b4"/>
<rect x="315.93" y="206.38" width="2.20" height="2.20" fill="#b4b4b4"/>
<rect x="324.71" y="206.38" width="2.20" height="2.20" fill="#b4b4b4"/>
<rect x="333.48" y="206.38" width="2.20" height="2.20" fill="#b4b4b4"/>
<rect x="342.26" y="206.38" width="2.20" height="2.20" fill="#b4b4b4"/>
<polyline points="255.57,207.39 255.94,207.39 256.31,207.39 256.68,207.39 257.05,207.39 257.41,207.39 257.78,207.39 258.15,207.39 258.52,207.39 258.89,207.39 259.25,207.39 259.62,207.39 259.99,207.38 260.36,207.38 260.73,207.38 261.09,207.38 261.46,207.38 261.83,207.38 262.20,207.38 262.57,207.38 262.93,207.37 263.30,207.37 263.67,207.37 264.04,207.37 264.41,207.37 264.77,207.36 265.14,207.36 265.51,207.36 265.88,207.36 266.25,207.35 266.61,207.35 266.98,207.35 267.35,207.34 267.72,207.34 268.09,207.33 268.45,207.33 268.82,207.33 269.19,207.32 269.56,207.32 269.93,207.31 270.29,207.30 270.66,207.30 271.03,207.29 271.40,207.28 271.77,207.28 272.13,207.27 272.50,207.26 272.87,207.25 273.24,207.24 273.61,207.23 273.97,207.22 274.34,207.20 274.71,207.19 275.08,207.18 275.45,207.16 275.81,207.15 276.18,207.13 276.55,207.11 276.92,207.09 277.29,207.07 277.65,207.05 278.02,207.03 278.39,207.01 278.76,206.98 279.13,206.95 279.49,206.92 279.86,206.89 280.23,206.86 280.60,206.82 280.97,206.78 281.33,206.74 281.70,206.70 282.07,206.65 282.44,206.61 282.81,206.55 283.17,206.50 283.54,206.44 283.91,206.38 284.28,206.31 284.65,206.24 285.01,206.17 285.38,206.09 285.75,206.01 286.12,205.92 286.49,205.82 286.85,205.72 287.22,205.61 287.59,205.50 287.96,205.38 288.33,205.26 288.69,205.12 289.06,204.98 289.43,204.83 289.80,204.67 290.17,204.50 290.53,204.33 290.90,204.14 291.27,203.94 291.64,203.74 292.01,203.52 292.37,203.29 292.74,203.05 293.11,202.79 293.48,202.53 293.85,202.25 294.21,201.95 294.58,201.65 294.95,201.33 295.32,200.99 295.69,200.64 296.05,200.28 296.42,199.90 296.79,199.51 297.16,199.10 297.53,198.68 297.89,198.24 298.26,197.79 298.63,197.32 299.00,196.84 299.37,196.35 299.73,195.84 300.10,195.32 300.47,194.79 300.84,194.25 301.21,193.69 301.57,193.13 301.94,192.56 302.31,191.98 302.68,191.40 303.05,190.81 303.41,190.22 303.78,189.62 304.15,189.02 304.52,188.42 304.89,187.83 305.25,187.23 305.62,186.64 305.99,186.05 306.36,185.47 306.73,184.90 307.09,184.33 307.46,183.77 307.83,183.22 308.20,182.68 308.57,182.16 308.93,181.64 309.30,181.14 309.67,180.65 310.04,180.18 310.41,179.72 310.77,179.27 311.14,178.84 311.51,178.42 311.88,178.02 312.25,177.63 312.61,177.26 312.98,176.90 313.35,176.56 313.72,176.23 314.09,175.91 314.45,175.61 314.82,175.33 315.19,175.05 315.56,174.79 315.93,174.54 316.29,174.30 316.66,174.08 317.03,173.86 317.40,173.66 317.77,173.47 318.13,173.28 318.50,173.11 318.87,172.95 319.24,172.79 319.61,172.65 319.97,172.51 320.34,172.38 320.71,172.25 321.08,172.14 321.45,172.03 321.81,171.92 322.18,171.82 322.55,171.73 322.92,171.64 323.29,171.56 323.65,171.48 324.02,171.41 324.39,171.34 324.76,171.28 325.13,171.22 325.49,171.16 325.86,171.11 326.23,171.06 326.60,171.01 326.97,170.96 327.33,170.92 327.70,170.88 328.07,170.85 328.44,170.81 328.81,170.78 329.17,170.75 329.54,170.72 329.91,170.69 330.28,170.67 330.65,170.64 331.01,170.62 331.38,170.60 331.75,170.58 332.12,170.56 332.49,170.54 332.85,170.53 333.22,170.51 333.59,170.50 333.96,170.49 334.33,170.47 334.69,170.46 335.06,170.45 335.43,170.44 335.80,170.43 336.17,170.42 336.53,170.41 336.90,170.40 337.27,170.40 337.64,170.39 338.01,170.38 338.37,170.38 338.74,170.37 339.11,170.37 339.48,170.36 339.85,170.36 340.21,170.35 340.58,170.35 340.95,170.34 341.32,170.34 341.69,170.34 342.05,170.33 342.42,170.33 342.79,170.33 343.16,170.32" fill="none" stroke="#000" stroke-width="0.9"/>
<circle cx="255.57" cy="207.40" r="1.5" fill="#000"/>
<circle cx="264.35" cy="207.40" r="1.5" fill="#000"/>
<circle cx="273.13" cy="207.40" r="1.5" fill="#000"/>
<circle cx="281.91" cy="206.95" r="1.5" fill="#000"/>
<line x1="290.69" y1="202.86" x2="290.69" y2="204.37" stroke="#111" stroke-width="0.6"/>
<line x1="289.49" y1="202.86" x2="291.89" y2="202.86" stroke="#111" stroke-width="0.6"/>
<line x1="289.49" y1="204.37" x2="291.89" y2="204.37" stroke="#111" stroke-width="0.6"/>
<circle cx="290.69" cy="203.61" r="1.5" fill="#000"/>
<line x1="299.47" y1="195.28" x2="299.47" y2="198.31" stroke="#111" stroke-width="0.6"/>
<line x1="298.27" y1="195.28" x2="300.67" y2="195.28" stroke="#111" stroke-width="0.6"/>
<line x1="298.27" y1="198.31" x2="300.67" y2="198.31" stroke="#111" stroke-width="0.6"/>
<circle cx="299.47" cy="196.80" r="1.5" fill="#000"/>
<line x1="308.25" y1="175.13" x2="308.25" y2="189.67" stroke="#111" stroke-width="0.6"/>
<line x1="307.05" y1="175.13" x2="309.45" y2="175.13" stroke="#111" stroke-width="0.6"/>
<line x1="307.05" y1="189.67" x2="309.45" y2="189.67" stroke="#111" stroke-width="0.6"/>
<circle cx="308.25" cy="182.40" r="1.5" fill="#000"/>
<line x1="317.03" y1="163.47" x2="317.03" y2="184.68" stroke="#111" stroke-width="0.6"/>
<line x1="315.83" y1="163.47" x2="318.23" y2="163.47" stroke="#111" stroke-width="0.6"/>
<line x1="315.83" y1="184.68" x2="318.23" y2="184.68" stroke="#111" stroke-width="0.6"/>
<circle cx="317.03" cy="174.07" r="1.5" fill="#000"/>
<line x1="325.81" y1="161.19" x2="325.81" y2="183.92" stroke="#111" stroke-width="0.6"/>
<line x1="324.61" y1="161.19" x2="327.01" y2="161.19" stroke="#111" stroke-width="0.6"/>
<line x1="324.61" y1="183.92" x2="327.01" y2="183.92" stroke="#111" stroke-width="0.6"/>
<circle cx="325.81" cy="172.56" r="1.5" fill="#000"/>
<line x1="334.58" y1="158.62" x2="334.58" y2="181.34" stroke="#111" stroke-width="0.6"/>
<line x1="333.38" y1="158.62" x2="335.78" y2="158.62" stroke="#111" stroke-width="0.6"/>
<line x1="333.38" y1="181.34" x2="335.78" y2="181.34" stroke="#111" stroke-width="0.6"/>
<circle cx="334.58" cy="169.98" r="1.5" fill="#000"/>
<line x1="343.36" y1="156.34" x2="343.36" y2="175.43" stroke="#111" stroke-width="0.6"/>
<line x1="342.16" y1="156.34" x2="344.56" y2="156.34" stroke="#111" stroke-width="0.6"/>
<line x1="342.16" y1="175.43" x2="344.56" y2="175.43" stroke="#111" stroke-width="0.6"/>
<circle cx="343.36" cy="165.89" r="1.5" fill="#000"/>
<rect x="307.80" y="162.40" width="0.9" height="1.2" fill="#222"/>
<rect x="307.80" y="164.15" width="0.9" height="1.2" fill="#222"/>
<rect x="307.80" y="165.90" width="0.9" height="1.2" fill="#222"/>
<rect x="307.80" y="167.65" width="0.9" height="1.2" fill="#222"/>
<rect x="316.58" y="152.40" width="0.9" height="1.2" fill="#222"/>
<rect x="316.58" y="154.15" width="0.9" height="1.2" fill="#222"/>
<rect x="316.58" y="155.90" width="0.9" height="1.2" fill="#222"/>
<rect x="316.58" y="157.65" width="0.9" height="1.2" fill="#222"/>
<rect x="325.36" y="151.30" width="0.9" height="1.2" fill="#222"/>
<rect x="325.36" y="153.05" width="0.9" height="1.2" fill="#222"/>
<rect x="325.36" y="154.80" width="0.9" height="1.2" fill="#222"/>
<rect x="325.36" y="156.55" width="0.9" height="1.2" fill="#222"/>
<rect x="334.13" y="147.50" width="0.9" height="1.2" fill="#222"/>
<rect x="334.13" y="149.25" width="0.9" height="1.2" fill="#222"/>
<rect x="334.13" y="151.00" width="0.9" height="1.2" fill="#222"/>
<rect x="334.13" y="152.75" width="0.9" height="1.2" fill="#222"/>
<rect x="342.91" y="148.30" width="0.9" height="1.2" fill="#222"/>
<rect x="342.91" y="150.05" width="0.9" height="1.2" fill="#222"/>
<rect x="342.91" y="151.80" width="0.9" height="1.2" fill="#222"/>
<rect x="342.91" y="153.55" width="0.9" height="1.2" fill="#222"/>
<line x1="376.90" y1="146.60" x2="376.90" y2="207.40" stroke="#222" stroke-width="0.8"/>
<line x1="375.10" y1="207.40" x2="376.90" y2="207.40" stroke="#222" stroke-width="0.8"/>
<text x="374.40" y="209.50" font-size="5.7" font-weight="bold" text-anchor="end" fill="#111" stroke="#111" stroke-width="0.22">0</text>
<line x1="375.10" y1="192.25" x2="376.90" y2="192.25" stroke="#222" stroke-width="0.8"/>
<text x="374.40" y="194.35" font-size="5.7" font-weight="bold" text-anchor="end" fill="#111" stroke="#111" stroke-width="0.22">10</text>
<line x1="375.10" y1="177.10" x2="376.90" y2="177.10" stroke="#222" stroke-width="0.8"/>
<text x="374.40" y="179.20" font-size="5.7" font-weight="bold" text-anchor="end" fill="#111" stroke="#111" stroke-width="0.22">20</text>
<line x1="375.10" y1="161.95" x2="376.90" y2="161.95" stroke="#222" stroke-width="0.8"/>
<text x="374.40" y="164.05" font-size="5.7" font-weight="bold" text-anchor="end" fill="#111" stroke="#111" stroke-width="0.22">30</text>
<line x1="375.10" y1="146.80" x2="376.90" y2="146.80" stroke="#222" stroke-width="0.8"/>
<text x="374.40" y="148.90" font-size="5.7" font-weight="bold" text-anchor="end" fill="#111" stroke="#111" stroke-width="0.22">40</text>
<line x1="376.90" y1="207.40" x2="469.05" y2="207.40" stroke="#222" stroke-width="0.8"/>
<line x1="376.90" y1="207.40" x2="376.90" y2="209.00" stroke="#222" stroke-width="0.7"/>
<text x="376.10" y="215.10" font-size="5.2" font-weight="bold" text-anchor="middle" fill="#111" stroke="#111" stroke-width="0.22">0.001</text>
<line x1="395.33" y1="207.40" x2="395.33" y2="209.00" stroke="#222" stroke-width="0.7"/>
<text x="394.53" y="215.10" font-size="5.2" font-weight="bold" text-anchor="middle" fill="#111" stroke="#111" stroke-width="0.22">0.01</text>
<line x1="413.76" y1="207.40" x2="413.76" y2="209.00" stroke="#222" stroke-width="0.7"/>
<text x="412.96" y="215.10" font-size="5.2" font-weight="bold" text-anchor="middle" fill="#111" stroke="#111" stroke-width="0.22">0.1</text>
<line x1="432.19" y1="207.40" x2="432.19" y2="209.00" stroke="#222" stroke-width="0.7"/>
<text x="431.39" y="215.10" font-size="5.2" font-weight="bold" text-anchor="middle" fill="#111" stroke="#111" stroke-width="0.22">1</text>
<line x1="450.62" y1="207.40" x2="450.62" y2="209.00" stroke="#222" stroke-width="0.7"/>
<text x="449.82" y="215.10" font-size="5.2" font-weight="bold" text-anchor="middle" fill="#111" stroke="#111" stroke-width="0.22">10</text>
<line x1="469.05" y1="207.40" x2="469.05" y2="209.00" stroke="#222" stroke-width="0.7"/>
<text x="468.25" y="215.10" font-size="5.2" font-weight="bold" text-anchor="middle" fill="#111" stroke="#111" stroke-width="0.22">100</text>
<text x="422.07" y="223.00" font-size="5.42" font-weight="bold" text-anchor="middle" fill="#111" stroke="#111" stroke-width="0.22">Antibody concentration (nmol/L)</text>
<text x="397.50" y="138.60" font-size="5.3" font-weight="bold" text-anchor="start" fill="#111" stroke="#111" stroke-width="0.22">Human neutrophils</text>
<text x="359.80" y="176.70" font-size="5.5" text-anchor="middle" fill="#111" transform="rotate(-90 359.80 176.70)" stroke="#111" stroke-width="0.18">mAb bound</text>
<text x="364.20" y="175.90" font-size="5.7" text-anchor="middle" fill="#111" transform="rotate(-90 364.20 175.90)" stroke="#111" stroke-width="0.18">(fold over secondary alone)</text>
<polyline points="377.88,205.58 386.67,205.58 395.46,205.58 404.26,205.58 413.05,205.58 421.84,205.58 430.64,205.58 439.43,205.58 448.22,205.58 457.02,205.58 465.81,205.58" fill="none" stroke="#bbb" stroke-width="1.0"/>
<rect x="376.78" y="204.48" width="2.20" height="2.20" fill="#b4b4b4"/>
<rect x="385.57" y="204.48" width="2.20" height="2.20" fill="#b4b4b4"/>
<rect x="394.36" y="204.48" width="2.20" height="2.20" fill="#b4b4b4"/>
<rect x="403.16" y="204.48" width="2.20" height="2.20" fill="#b4b4b4"/>
<rect x="411.95" y="204.48" width="2.20" height="2.20" fill="#b4b4b4"/>
<rect x="420.74" y="204.48" width="2.20" height="2.20" fill="#b4b4b4"/>
<rect x="429.54" y="204.48" width="2.20" height="2.20" fill="#b4b4b4"/>
<rect x="438.33" y="204.48" width="2.20" height="2.20" fill="#b4b4b4"/>
<rect x="447.12" y="204.48" width="2.20" height="2.20" fill="#b4b4b4"/>
<rect x="455.92" y="204.48" width="2.20" height="2.20" fill="#b4b4b4"/>
<rect x="464.71" y="204.48" width="2.20" height="2.20" fill="#b4b4b4"/>
<polyline points="377.88,206.18 378.24,206.18 378.61,206.18 378.98,206.18 379.35,206.18 379.72,206.18 380.09,206.18 380.46,206.18 380.82,206.18 381.19,206.18 381.56,206.18 381.93,206.18 382.30,206.17 382.67,206.17 383.04,206.17 383.40,206.17 383.77,206.17 384.14,206.17 384.51,206.17 384.88,206.17 385.25,206.16 385.62,206.16 385.98,206.16 386.35,206.16 386.72,206.16 387.09,206.16 387.46,206.15 387.83,206.15 388.20,206.15 388.56,206.15 388.93,206.14 389.30,206.14 389.67,206.14 390.04,206.13 390.41,206.13 390.78,206.12 391.14,206.12 391.51,206.11 391.88,206.11 392.25,206.10 392.62,206.10 392.99,206.09 393.36,206.08 393.72,206.08 394.09,206.07 394.46,206.06 394.83,206.05 395.20,206.04 395.57,206.03 395.94,206.02 396.31,206.01 396.67,205.99 397.04,205.98 397.41,205.96 397.78,205.95 398.15,205.93 398.52,205.91 398.89,205.89 399.25,205.87 399.62,205.85 399.99,205.82 400.36,205.80 400.73,205.77 401.10,205.74 401.47,205.71 401.83,205.68 402.20,205.64 402.57,205.60 402.94,205.56 403.31,205.52 403.68,205.47 404.05,205.42 404.41,205.37 404.78,205.31 405.15,205.25 405.52,205.18 405.89,205.11 406.26,205.04 406.63,204.96 406.99,204.87 407.36,204.78 407.73,204.68 408.10,204.58 408.47,204.47 408.84,204.35 409.21,204.23 409.57,204.10 409.94,203.95 410.31,203.80 410.68,203.64 411.05,203.47 411.42,203.29 411.79,203.10 412.15,202.90 412.52,202.69 412.89,202.46 413.26,202.22 413.63,201.97 414.00,201.70 414.37,201.41 414.74,201.12 415.10,200.80 415.47,200.47 415.84,200.12 416.21,199.76 416.58,199.38 416.95,198.98 417.32,198.56 417.68,198.13 418.05,197.67 418.42,197.20 418.79,196.71 419.16,196.20 419.53,195.67 419.90,195.13 420.26,194.56 420.63,193.98 421.00,193.39 421.37,192.78 421.74,192.16 422.11,191.52 422.48,190.87 422.84,190.21 423.21,189.54 423.58,188.87 423.95,188.18 424.32,187.49 424.69,186.80 425.06,186.11 425.42,185.42 425.79,184.73 426.16,184.04 426.53,183.35 426.90,182.68 427.27,182.01 427.64,181.35 428.00,180.70 428.37,180.06 428.74,179.44 429.11,178.83 429.48,178.24 429.85,177.66 430.22,177.10 430.58,176.55 430.95,176.02 431.32,175.52 431.69,175.02 432.06,174.55 432.43,174.10 432.80,173.66 433.17,173.24 433.53,172.85 433.90,172.46 434.27,172.10 434.64,171.75 435.01,171.42 435.38,171.11 435.75,170.81 436.11,170.53 436.48,170.26 436.85,170.01 437.22,169.77 437.59,169.54 437.96,169.32 438.33,169.12 438.69,168.93 439.06,168.75 439.43,168.58 439.80,168.42 440.17,168.27 440.54,168.13 440.91,168.00 441.27,167.87 441.64,167.76 442.01,167.65 442.38,167.54 442.75,167.45 443.12,167.36 443.49,167.27 443.85,167.19 444.22,167.12 444.59,167.05 444.96,166.98 445.33,166.92 445.70,166.86 446.07,166.81 446.43,166.76 446.80,166.71 447.17,166.67 447.54,166.63 447.91,166.59 448.28,166.55 448.65,166.52 449.01,166.49 449.38,166.46 449.75,166.43 450.12,166.40 450.49,166.38 450.86,166.36 451.23,166.34 451.60,166.32 451.96,166.30 452.33,166.28 452.70,166.26 453.07,166.25 453.44,166.24 453.81,166.22 454.18,166.21 454.54,166.20 454.91,166.19 455.28,166.18 455.65,166.17 456.02,166.16 456.39,166.15 456.76,166.15 457.12,166.14 457.49,166.13 457.86,166.13 458.23,166.12 458.60,166.12 458.97,166.11 459.34,166.11 459.70,166.10 460.07,166.10 460.44,166.09 460.81,166.09 461.18,166.09 461.55,166.08 461.92,166.08 462.28,166.08 462.65,166.08 463.02,166.07 463.39,166.07 463.76,166.07 464.13,166.07 464.50,166.07 464.86,166.06 465.23,166.06 465.60,166.06" fill="none" stroke="#000" stroke-width="0.9"/>
<circle cx="377.88" cy="206.19" r="1.5" fill="#000"/>
<circle cx="386.67" cy="205.89" r="1.5" fill="#000"/>
<circle cx="395.46" cy="205.43" r="1.5" fill="#000"/>
<circle cx="404.26" cy="203.92" r="1.5" fill="#000"/>
<line x1="413.05" y1="199.22" x2="413.05" y2="201.64" stroke="#111" stroke-width="0.6"/>
<line x1="411.85" y1="199.22" x2="414.25" y2="199.22" stroke="#111" stroke-width="0.6"/>
<line x1="411.85" y1="201.64" x2="414.25" y2="201.64" stroke="#111" stroke-width="0.6"/>
<circle cx="413.05" cy="200.43" r="1.5" fill="#000"/>
<line x1="421.84" y1="190.58" x2="421.84" y2="195.13" stroke="#111" stroke-width="0.6"/>
<line x1="420.64" y1="190.58" x2="423.04" y2="190.58" stroke="#111" stroke-width="0.6"/>
<line x1="420.64" y1="195.13" x2="423.04" y2="195.13" stroke="#111" stroke-width="0.6"/>
<circle cx="421.84" cy="192.86" r="1.5" fill="#000"/>
<line x1="430.64" y1="171.34" x2="430.64" y2="181.95" stroke="#111" stroke-width="0.6"/>
<line x1="429.44" y1="171.34" x2="431.84" y2="171.34" stroke="#111" stroke-width="0.6"/>
<line x1="429.44" y1="181.95" x2="431.84" y2="181.95" stroke="#111" stroke-width="0.6"/>
<circle cx="430.64" cy="176.65" r="1.5" fill="#000"/>
<line x1="439.43" y1="163.92" x2="439.43" y2="174.52" stroke="#111" stroke-width="0.6"/>
<line x1="438.23" y1="163.92" x2="440.63" y2="163.92" stroke="#111" stroke-width="0.6"/>
<line x1="438.23" y1="174.52" x2="440.63" y2="174.52" stroke="#111" stroke-width="0.6"/>
<circle cx="439.43" cy="169.22" r="1.5" fill="#000"/>
<line x1="448.22" y1="162.40" x2="448.22" y2="173.01" stroke="#111" stroke-width="0.6"/>
<line x1="447.02" y1="162.40" x2="449.42" y2="162.40" stroke="#111" stroke-width="0.6"/>
<line x1="447.02" y1="173.01" x2="449.42" y2="173.01" stroke="#111" stroke-width="0.6"/>
<circle cx="448.22" cy="167.71" r="1.5" fill="#000"/>
<line x1="457.02" y1="161.50" x2="457.02" y2="172.10" stroke="#111" stroke-width="0.6"/>
<line x1="455.82" y1="161.50" x2="458.22" y2="161.50" stroke="#111" stroke-width="0.6"/>
<line x1="455.82" y1="172.10" x2="458.22" y2="172.10" stroke="#111" stroke-width="0.6"/>
<circle cx="457.02" cy="166.80" r="1.5" fill="#000"/>
<line x1="465.81" y1="155.13" x2="465.81" y2="168.77" stroke="#111" stroke-width="0.6"/>
<line x1="464.61" y1="155.13" x2="467.01" y2="155.13" stroke="#111" stroke-width="0.6"/>
<line x1="464.61" y1="168.77" x2="467.01" y2="168.77" stroke="#111" stroke-width="0.6"/>
<circle cx="465.81" cy="161.95" r="1.5" fill="#000"/>
<rect x="421.39" y="178.50" width="0.9" height="1.2" fill="#222"/>
<rect x="421.39" y="180.25" width="0.9" height="1.2" fill="#222"/>
<rect x="421.39" y="182.00" width="0.9" height="1.2" fill="#222"/>
<rect x="421.39" y="183.75" width="0.9" height="1.2" fill="#222"/>
<rect x="430.19" y="163.00" width="0.9" height="1.2" fill="#222"/>
<rect x="430.19" y="164.75" width="0.9" height="1.2" fill="#222"/>
<rect x="430.19" y="166.50" width="0.9" height="1.2" fill="#222"/>
<rect x="430.19" y="168.25" width="0.9" height="1.2" fill="#222"/>
<rect x="438.98" y="148.50" width="0.9" height="1.2" fill="#222"/>
<rect x="438.98" y="150.25" width="0.9" height="1.2" fill="#222"/>
<rect x="438.98" y="152.00" width="0.9" height="1.2" fill="#222"/>
<rect x="438.98" y="153.75" width="0.9" height="1.2" fill="#222"/>
<rect x="447.77" y="147.50" width="0.9" height="1.2" fill="#222"/>
<rect x="447.77" y="149.25" width="0.9" height="1.2" fill="#222"/>
<rect x="447.77" y="151.00" width="0.9" height="1.2" fill="#222"/>
<rect x="447.77" y="152.75" width="0.9" height="1.2" fill="#222"/>
<rect x="456.57" y="147.00" width="0.9" height="1.2" fill="#222"/>
<rect x="456.57" y="148.75" width="0.9" height="1.2" fill="#222"/>
<rect x="456.57" y="150.50" width="0.9" height="1.2" fill="#222"/>
<rect x="456.57" y="152.25" width="0.9" height="1.2" fill="#222"/>
<rect x="465.36" y="145.50" width="0.9" height="1.2" fill="#222"/>
<rect x="465.36" y="147.25" width="0.9" height="1.2" fill="#222"/>
<rect x="465.36" y="149.00" width="0.9" height="1.2" fill="#222"/>
<rect x="465.36" y="150.75" width="0.9" height="1.2" fill="#222"/>
<line x1="474.00" y1="150.70" x2="480.00" y2="150.70" stroke="#000" stroke-width="0.8"/>
<circle cx="477.20" cy="150.70" r="1.2" fill="#000"/>
<text x="483.00" y="152.60" font-size="5.4" font-weight="bold" text-anchor="start" fill="#111" stroke="#111" stroke-width="0.22">JTX-8064</text>
<line x1="474.50" y1="158.80" x2="480.00" y2="158.80" stroke="#bbb" stroke-width="1.0"/>
<rect x="476.20" y="157.80" width="2.00" height="2.00" fill="#c0c0c0"/>
<text x="483.00" y="160.80" font-size="5.4" font-weight="bold" text-anchor="start" fill="#111" stroke="#111" stroke-width="0.22">higG4 Isotype</text>
<line x1="51.50" y1="246.40" x2="51.50" y2="311.00" stroke="#333" stroke-width="0.8"/>
<line x1="50.00" y1="311.00" x2="51.50" y2="311.00" stroke="#333" stroke-width="0.8"/>
<text x="49.20" y="312.60" font-size="4.5" font-weight="bold" text-anchor="end" fill="#222" stroke="#222" stroke-width="0.22">0</text>
<line x1="50.00" y1="294.90" x2="51.50" y2="294.90" stroke="#333" stroke-width="0.8"/>
<text x="49.20" y="296.50" font-size="4.5" font-weight="bold" text-anchor="end" fill="#222" stroke="#222" stroke-width="0.22">20</text>
<line x1="50.00" y1="278.80" x2="51.50" y2="278.80" stroke="#333" stroke-width="0.8"/>
<text x="49.20" y="280.40" font-size="4.5" font-weight="bold" text-anchor="end" fill="#222" stroke="#222" stroke-width="0.22">40</text>
<line x1="50.00" y1="262.70" x2="51.50" y2="262.70" stroke="#333" stroke-width="0.8"/>
<text x="49.20" y="264.30" font-size="4.5" font-weight="bold" text-anchor="end" fill="#222" stroke="#222" stroke-width="0.22">60</text>
<line x1="50.00" y1="246.60" x2="51.50" y2="246.60" stroke="#333" stroke-width="0.8"/>
<text x="49.20" y="248.20" font-size="4.5" font-weight="bold" text-anchor="end" fill="#222" stroke="#222" stroke-width="0.22">80</text>
<line x1="51.50" y1="311.00" x2="153.00" y2="311.00" stroke="#333" stroke-width="0.8"/>
<line x1="50.80" y1="311.00" x2="50.80" y2="312.40" stroke="#333" stroke-width="0.6"/>
<text x="50.80" y="317.60" font-size="4.8" font-weight="bold" text-anchor="middle" fill="#222" stroke="#222" stroke-width="0.22">0.000001</text>
<line x1="70.30" y1="311.00" x2="70.30" y2="312.40" stroke="#333" stroke-width="0.6"/>
<text x="70.30" y="317.60" font-size="4.8" font-weight="bold" text-anchor="middle" fill="#222" stroke="#222" stroke-width="0.22">0.0001</text>
<line x1="89.30" y1="311.00" x2="89.30" y2="312.40" stroke="#333" stroke-width="0.6"/>
<text x="89.30" y="317.60" font-size="4.8" font-weight="bold" text-anchor="middle" fill="#222" stroke="#222" stroke-width="0.22">0.01</text>
<line x1="109.00" y1="311.00" x2="109.00" y2="312.40" stroke="#333" stroke-width="0.6"/>
<text x="109.00" y="317.60" font-size="4.8" font-weight="bold" text-anchor="middle" fill="#222" stroke="#222" stroke-width="0.22">1</text>
<line x1="128.50" y1="311.00" x2="128.50" y2="312.40" stroke="#333" stroke-width="0.6"/>
<text x="128.50" y="317.60" font-size="4.8" font-weight="bold" text-anchor="middle" fill="#222" stroke="#222" stroke-width="0.22">100</text>
<line x1="147.00" y1="311.00" x2="147.00" y2="312.40" stroke="#333" stroke-width="0.6"/>
<text x="147.00" y="317.60" font-size="4.8" font-weight="bold" text-anchor="middle" fill="#222" stroke="#222" stroke-width="0.22">10,000</text>
<text x="99.60" y="237.80" font-size="6.2" font-weight="bold" text-anchor="middle" fill="#111" stroke="#111" stroke-width="0.22">HMDM</text>
<text x="100.00" y="327.40" font-size="5.55" font-weight="bold" text-anchor="middle" fill="#111" stroke="#111" stroke-width="0.22">Antibody concentration (nmol/L)</text>
<text x="37.40" y="278.90" font-size="5.45" font-weight="bold" text-anchor="middle" fill="#111" transform="rotate(-90 37.40 278.90)" stroke="#111" stroke-width="0.22">% HLA-A2 blocked</text>
<polyline points="66.30,306.96 66.59,306.96 66.88,306.96 67.17,306.95 67.47,306.95 67.76,306.95 68.05,306.95 68.34,306.95 68.63,306.94 68.92,306.94 69.22,306.94 69.51,306.94 69.80,306.93 70.09,306.93 70.38,306.93 70.67,306.92 70.97,306.92 71.26,306.92 71.55,306.91 71.84,306.91 72.13,306.90 72.42,306.90 72.72,306.89 73.01,306.89 73.30,306.88 73.59,306.87 73.88,306.86 74.17,306.86 74.46,306.85 74.76,306.84 75.05,306.83 75.34,306.82 75.63,306.80 75.92,306.79 76.21,306.78 76.51,306.76 76.80,306.75 77.09,306.73 77.38,306.71 77.67,306.69 77.96,306.67 78.26,306.65 78.55,306.62 78.84,306.60 79.13,306.57 79.42,306.54 79.71,306.51 80.01,306.47 80.30,306.43 80.59,306.39 80.88,306.35 81.17,306.31 81.46,306.26 81.75,306.20 82.05,306.15 82.34,306.08 82.63,306.02 82.92,305.95 83.21,305.87 83.50,305.79 83.80,305.71 84.09,305.62 84.38,305.52 84.67,305.41 84.96,305.30 85.25,305.18 85.55,305.05 85.84,304.92 86.13,304.77 86.42,304.62 86.71,304.45 87.00,304.27 87.30,304.09 87.59,303.89 87.88,303.68 88.17,303.45 88.46,303.21 88.75,302.96 89.04,302.69 89.34,302.41 89.63,302.11 89.92,301.79 90.21,301.46 90.50,301.11 90.79,300.74 91.09,300.36 91.38,299.95 91.67,299.53 91.96,299.08 92.25,298.62 92.54,298.14 92.84,297.64 93.13,297.12 93.42,296.58 93.71,296.03 94.00,295.46 94.29,294.87 94.59,294.27 94.88,293.65 95.17,293.02 95.46,292.37 95.75,291.72 96.04,291.06 96.33,290.39 96.63,289.71 96.92,289.03 97.21,288.35 97.50,287.67 97.79,286.98 98.08,286.31 98.38,285.63 98.67,284.96 98.96,284.31 99.25,283.66 99.54,283.02 99.83,282.39 100.13,281.78 100.42,281.18 100.71,280.60 101.00,280.03 101.29,279.49 101.58,278.96 101.88,278.44 102.17,277.95 102.46,277.48 102.75,277.02 103.04,276.59 103.33,276.17 103.62,275.77 103.92,275.39 104.21,275.03 104.50,274.69 104.79,274.36 105.08,274.05 105.37,273.76 105.67,273.48 105.96,273.22 106.25,272.97 106.54,272.74 106.83,272.52 107.12,272.31 107.42,272.12 107.71,271.93 108.00,271.76 108.29,271.60 108.58,271.45 108.87,271.31 109.17,271.17 109.46,271.05 109.75,270.93 110.04,270.82 110.33,270.72 110.62,270.62 110.91,270.53 111.21,270.45 111.50,270.37 111.79,270.30 112.08,270.23 112.37,270.17 112.66,270.11 112.96,270.05 113.25,270.00 113.54,269.95 113.83,269.91 114.12,269.87 114.41,269.83 114.71,269.79 115.00,269.76 115.29,269.73 115.58,269.70 115.87,269.67 116.16,269.64 116.46,269.62 116.75,269.60 117.04,269.58 117.33,269.56 117.62,269.54 117.91,269.52 118.20,269.51 118.50,269.49 118.79,269.48 119.08,269.47 119.37,269.46 119.66,269.45 119.95,269.44 120.25,269.43 120.54,269.42 120.83,269.41 121.12,269.40 121.41,269.39 121.70,269.39 122.00,269.38 122.29,269.38 122.58,269.37 122.87,269.37 123.16,269.36 123.45,269.36 123.75,269.35 124.04,269.35 124.33,269.35 124.62,269.34 124.91,269.34 125.20,269.34 125.49,269.33 125.79,269.33 126.08,269.33 126.37,269.33 126.66,269.33 126.95,269.32 127.24,269.32 127.54,269.32 127.83,269.32 128.12,269.32 128.41,269.32 128.70,269.32 128.99,269.32 129.29,269.31 129.58,269.31 129.87,269.31 130.16,269.31 130.45,269.31 130.74,269.31 131.04,269.31 131.33,269.31 131.62,269.31 131.91,269.31 132.20,269.31 132.49,269.31 132.78,269.31 133.08,269.31 133.37,269.31 133.66,269.31 133.95,269.31 134.24,269.30 134.53,269.30 134.83,269.30 135.12,269.30 135.41,269.30 135.70,269.30 135.99,269.30 136.28,269.30 136.58,269.30" fill="none" stroke="#000" stroke-width="0.9"/>
<polyline points="66.30,306.57 130.00,306.57 136.70,307.62" fill="none" stroke="#111" stroke-width="0.8"/>
<line x1="66.30" y1="306.17" x2="66.30" y2="309.39" stroke="#222" stroke-width="0.6"/>
<line x1="65.20" y1="306.17" x2="67.40" y2="306.17" stroke="#222" stroke-width="0.6"/>
<line x1="65.20" y1="309.39" x2="67.40" y2="309.39" stroke="#222" stroke-width="0.6"/>
<circle cx="66.30" cy="307.78" r="1.35" fill="#fff" stroke="#111" stroke-width="0.7"/>
<line x1="73.20" y1="306.17" x2="73.20" y2="307.78" stroke="#222" stroke-width="0.6"/>
<line x1="72.10" y1="306.17" x2="74.30" y2="306.17" stroke="#222" stroke-width="0.6"/>
<line x1="72.10" y1="307.78" x2="74.30" y2="307.78" stroke="#222" stroke-width="0.6"/>
<circle cx="73.20" cy="306.98" r="1.35" fill="#fff" stroke="#111" stroke-width="0.7"/>
<line x1="79.70" y1="302.55" x2="79.70" y2="309.79" stroke="#222" stroke-width="0.6"/>
<line x1="78.60" y1="302.55" x2="80.80" y2="302.55" stroke="#222" stroke-width="0.6"/>
<line x1="78.60" y1="309.79" x2="80.80" y2="309.79" stroke="#222" stroke-width="0.6"/>
<circle cx="79.70" cy="306.17" r="1.35" fill="#fff" stroke="#111" stroke-width="0.7"/>
<line x1="86.80" y1="302.31" x2="86.80" y2="307.14" stroke="#222" stroke-width="0.6"/>
<line x1="85.70" y1="302.31" x2="87.90" y2="302.31" stroke="#222" stroke-width="0.6"/>
<line x1="85.70" y1="307.14" x2="87.90" y2="307.14" stroke="#222" stroke-width="0.6"/>
<circle cx="86.80" cy="304.72" r="1.35" fill="#fff" stroke="#111" stroke-width="0.7"/>
<line x1="93.50" y1="303.27" x2="93.50" y2="308.10" stroke="#222" stroke-width="0.6"/>
<line x1="92.40" y1="303.27" x2="94.60" y2="303.27" stroke="#222" stroke-width="0.6"/>
<line x1="92.40" y1="308.10" x2="94.60" y2="308.10" stroke="#222" stroke-width="0.6"/>
<circle cx="93.50" cy="305.69" r="1.35" fill="#fff" stroke="#111" stroke-width="0.7"/>
<line x1="100.10" y1="301.74" x2="100.10" y2="306.57" stroke="#222" stroke-width="0.6"/>
<line x1="99.00" y1="301.74" x2="101.20" y2="301.74" stroke="#222" stroke-width="0.6"/>
<line x1="99.00" y1="306.57" x2="101.20" y2="306.57" stroke="#222" stroke-width="0.6"/>
<circle cx="100.10" cy="304.16" r="1.35" fill="#fff" stroke="#111" stroke-width="0.7"/>
<line x1="106.90" y1="303.75" x2="106.90" y2="308.58" stroke="#222" stroke-width="0.6"/>
<line x1="105.80" y1="303.75" x2="108.00" y2="303.75" stroke="#222" stroke-width="0.6"/>
<line x1="105.80" y1="308.58" x2="108.00" y2="308.58" stroke="#222" stroke-width="0.6"/>
<circle cx="106.90" cy="306.17" r="1.35" fill="#fff" stroke="#111" stroke-width="0.7"/>
<line x1="113.50" y1="300.54" x2="113.50" y2="307.78" stroke="#222" stroke-width="0.6"/>
<line x1="112.40" y1="300.54" x2="114.60" y2="300.54" stroke="#222" stroke-width="0.6"/>
<line x1="112.40" y1="307.78" x2="114.60" y2="307.78" stroke="#222" stroke-width="0.6"/>
<circle cx="113.50" cy="304.16" r="1.35" fill="#fff" stroke="#111" stroke-width="0.7"/>
<line x1="120.40" y1="305.37" x2="120.40" y2="308.58" stroke="#222" stroke-width="0.6"/>
<line x1="119.30" y1="305.37" x2="121.50" y2="305.37" stroke="#222" stroke-width="0.6"/>
<line x1="119.30" y1="308.58" x2="121.50" y2="308.58" stroke="#222" stroke-width="0.6"/>
<circle cx="120.40" cy="306.98" r="1.35" fill="#fff" stroke="#111" stroke-width="0.7"/>
<line x1="127.20" y1="306.57" x2="127.20" y2="308.99" stroke="#222" stroke-width="0.6"/>
<line x1="126.10" y1="306.57" x2="128.30" y2="306.57" stroke="#222" stroke-width="0.6"/>
<line x1="126.10" y1="308.99" x2="128.30" y2="308.99" stroke="#222" stroke-width="0.6"/>
<circle cx="127.20" cy="307.78" r="1.35" fill="#fff" stroke="#111" stroke-width="0.7"/>
<line x1="136.70" y1="306.98" x2="136.70" y2="308.58" stroke="#222" stroke-width="0.6"/>
<line x1="135.60" y1="306.98" x2="137.80" y2="306.98" stroke="#222" stroke-width="0.6"/>
<line x1="135.60" y1="308.58" x2="137.80" y2="308.58" stroke="#222" stroke-width="0.6"/>
<circle cx="136.70" cy="307.78" r="1.35" fill="#fff" stroke="#111" stroke-width="0.7"/>
<line x1="66.30" y1="306.09" x2="66.30" y2="310.11" stroke="#111" stroke-width="0.6"/>
<line x1="65.20" y1="306.09" x2="67.40" y2="306.09" stroke="#111" stroke-width="0.6"/>
<line x1="65.20" y1="310.11" x2="67.40" y2="310.11" stroke="#111" stroke-width="0.6"/>
<circle cx="66.30" cy="308.10" r="1.5" fill="#000"/>
<line x1="73.20" y1="305.77" x2="73.20" y2="307.38" stroke="#111" stroke-width="0.6"/>
<line x1="72.10" y1="305.77" x2="74.30" y2="305.77" stroke="#111" stroke-width="0.6"/>
<line x1="72.10" y1="307.38" x2="74.30" y2="307.38" stroke="#111" stroke-width="0.6"/>
<circle cx="73.20" cy="306.57" r="1.5" fill="#000"/>
<line x1="79.70" y1="301.98" x2="79.70" y2="308.42" stroke="#111" stroke-width="0.6"/>
<line x1="78.60" y1="301.98" x2="80.80" y2="301.98" stroke="#111" stroke-width="0.6"/>
<line x1="78.60" y1="308.42" x2="80.80" y2="308.42" stroke="#111" stroke-width="0.6"/>
<circle cx="79.70" cy="305.20" r="1.5" fill="#000"/>
<line x1="86.80" y1="299.09" x2="86.80" y2="305.53" stroke="#111" stroke-width="0.6"/>
<line x1="85.70" y1="299.09" x2="87.90" y2="299.09" stroke="#111" stroke-width="0.6"/>
<line x1="85.70" y1="305.53" x2="87.90" y2="305.53" stroke="#111" stroke-width="0.6"/>
<circle cx="86.80" cy="302.31" r="1.5" fill="#000"/>
<line x1="93.50" y1="294.74" x2="93.50" y2="297.96" stroke="#111" stroke-width="0.6"/>
<line x1="92.40" y1="294.74" x2="94.60" y2="294.74" stroke="#111" stroke-width="0.6"/>
<line x1="92.40" y1="297.96" x2="94.60" y2="297.96" stroke="#111" stroke-width="0.6"/>
<circle cx="93.50" cy="296.35" r="1.5" fill="#000"/>
<line x1="100.10" y1="280.81" x2="100.10" y2="284.84" stroke="#111" stroke-width="0.6"/>
<line x1="99.00" y1="280.81" x2="101.20" y2="280.81" stroke="#111" stroke-width="0.6"/>
<line x1="99.00" y1="284.84" x2="101.20" y2="284.84" stroke="#111" stroke-width="0.6"/>
<circle cx="100.10" cy="282.82" r="1.5" fill="#000"/>
<line x1="106.90" y1="262.70" x2="106.90" y2="276.38" stroke="#111" stroke-width="0.6"/>
<line x1="105.80" y1="262.70" x2="108.00" y2="262.70" stroke="#111" stroke-width="0.6"/>
<line x1="105.80" y1="276.38" x2="108.00" y2="276.38" stroke="#111" stroke-width="0.6"/>
<circle cx="106.90" cy="269.54" r="1.5" fill="#000"/>
<line x1="113.50" y1="262.46" x2="113.50" y2="276.14" stroke="#111" stroke-width="0.6"/>
<line x1="112.40" y1="262.46" x2="114.60" y2="262.46" stroke="#111" stroke-width="0.6"/>
<line x1="112.40" y1="276.14" x2="114.60" y2="276.14" stroke="#111" stroke-width="0.6"/>
<circle cx="113.50" cy="269.30" r="1.5" fill="#000"/>
<line x1="120.40" y1="262.46" x2="120.40" y2="276.14" stroke="#111" stroke-width="0.6"/>
<line x1="119.30" y1="262.46" x2="121.50" y2="262.46" stroke="#111" stroke-width="0.6"/>
<line x1="119.30" y1="276.14" x2="121.50" y2="276.14" stroke="#111" stroke-width="0.6"/>
<circle cx="120.40" cy="269.30" r="1.5" fill="#000"/>
<line x1="127.20" y1="262.46" x2="127.20" y2="276.14" stroke="#111" stroke-width="0.6"/>
<line x1="126.10" y1="262.46" x2="128.30" y2="262.46" stroke="#111" stroke-width="0.6"/>
<line x1="126.10" y1="276.14" x2="128.30" y2="276.14" stroke="#111" stroke-width="0.6"/>
<circle cx="127.20" cy="269.30" r="1.5" fill="#000"/>
<line x1="136.70" y1="262.46" x2="136.70" y2="276.14" stroke="#111" stroke-width="0.6"/>
<line x1="135.60" y1="262.46" x2="137.80" y2="262.46" stroke="#111" stroke-width="0.6"/>
<line x1="135.60" y1="276.14" x2="137.80" y2="276.14" stroke="#111" stroke-width="0.6"/>
<circle cx="136.70" cy="269.30" r="1.5" fill="#000"/>
<line x1="200.00" y1="251.96" x2="200.00" y2="318.08" stroke="#333" stroke-width="0.8"/>
<line x1="198.50" y1="318.08" x2="200.00" y2="318.08" stroke="#333" stroke-width="0.8"/>
<text x="197.70" y="319.78" font-size="4.6" font-weight="bold" text-anchor="end" fill="#222" stroke="#222" stroke-width="0.22">-20</text>
<line x1="198.50" y1="301.60" x2="200.00" y2="301.60" stroke="#333" stroke-width="0.8"/>
<text x="197.70" y="303.30" font-size="4.6" font-weight="bold" text-anchor="end" fill="#222" stroke="#222" stroke-width="0.22">0</text>
<line x1="198.50" y1="285.12" x2="200.00" y2="285.12" stroke="#333" stroke-width="0.8"/>
<text x="197.70" y="286.82" font-size="4.6" font-weight="bold" text-anchor="end" fill="#222" stroke="#222" stroke-width="0.22">20</text>
<line x1="198.50" y1="268.64" x2="200.00" y2="268.64" stroke="#333" stroke-width="0.8"/>
<text x="197.70" y="270.34" font-size="4.6" font-weight="bold" text-anchor="end" fill="#222" stroke="#222" stroke-width="0.22">40</text>
<line x1="198.50" y1="252.16" x2="200.00" y2="252.16" stroke="#333" stroke-width="0.8"/>
<text x="197.70" y="253.86" font-size="4.6" font-weight="bold" text-anchor="end" fill="#222" stroke="#222" stroke-width="0.22">60</text>
<line x1="200.00" y1="301.60" x2="299.40" y2="301.60" stroke="#333" stroke-width="0.8"/>
<line x1="220.40" y1="301.60" x2="220.40" y2="303.00" stroke="#333" stroke-width="0.6"/>
<line x1="240.10" y1="301.60" x2="240.10" y2="303.00" stroke="#333" stroke-width="0.6"/>
<line x1="259.80" y1="301.60" x2="259.80" y2="303.00" stroke="#333" stroke-width="0.6"/>
<line x1="279.50" y1="301.60" x2="279.50" y2="303.00" stroke="#333" stroke-width="0.6"/>
<line x1="299.20" y1="301.60" x2="299.20" y2="303.00" stroke="#333" stroke-width="0.6"/>
<text x="219.90" y="309.00" font-size="4.7" font-weight="bold" text-anchor="middle" fill="#222" stroke="#222" stroke-width="0.22">0.0001</text>
<text x="240.00" y="309.00" font-size="4.7" font-weight="bold" text-anchor="middle" fill="#222" stroke="#222" stroke-width="0.22">0.01</text>
<text x="259.80" y="309.00" font-size="4.7" font-weight="bold" text-anchor="middle" fill="#222" stroke="#222" stroke-width="0.22">1</text>
<text x="279.50" y="309.00" font-size="4.7" font-weight="bold" text-anchor="middle" fill="#222" stroke="#222" stroke-width="0.22">100</text>
<text x="299.20" y="309.00" font-size="4.7" font-weight="bold" text-anchor="middle" fill="#222" stroke="#222" stroke-width="0.22">10,000</text>
<text x="250.00" y="242.60" font-size="6.2" font-weight="bold" text-anchor="middle" fill="#111" stroke="#111" stroke-width="0.22">HMDM</text>
<text x="255.60" y="328.20" font-size="5.55" font-weight="bold" text-anchor="middle" fill="#111" stroke="#111" stroke-width="0.22">Antibody concentration (nmol/L)</text>
<text x="185.50" y="284.80" font-size="5.4" font-weight="bold" text-anchor="middle" fill="#111" transform="rotate(-90 185.50 284.80)" stroke="#111" stroke-width="0.22">% HLA-G blocked</text>
<line x1="250.20" y1="304.60" x2="250.20" y2="309.30" stroke="#222" stroke-width="0.6"/>
<line x1="249.30" y1="304.60" x2="251.10" y2="304.60" stroke="#222" stroke-width="0.6"/>
<line x1="249.30" y1="309.30" x2="251.10" y2="309.30" stroke="#222" stroke-width="0.6"/>
<circle cx="250.20" cy="307.00" r="1.1" fill="#fff" stroke="#111" stroke-width="0.6"/>
<line x1="257.10" y1="304.60" x2="257.10" y2="309.30" stroke="#222" stroke-width="0.6"/>
<line x1="256.20" y1="304.60" x2="258.00" y2="304.60" stroke="#222" stroke-width="0.6"/>
<line x1="256.20" y1="309.30" x2="258.00" y2="309.30" stroke="#222" stroke-width="0.6"/>
<circle cx="257.10" cy="307.00" r="1.1" fill="#fff" stroke="#111" stroke-width="0.6"/>
<line x1="263.80" y1="304.60" x2="263.80" y2="309.30" stroke="#222" stroke-width="0.6"/>
<line x1="262.90" y1="304.60" x2="264.70" y2="304.60" stroke="#222" stroke-width="0.6"/>
<line x1="262.90" y1="309.30" x2="264.70" y2="309.30" stroke="#222" stroke-width="0.6"/>
<circle cx="263.80" cy="307.00" r="1.1" fill="#fff" stroke="#111" stroke-width="0.6"/>
<line x1="271.30" y1="304.60" x2="271.30" y2="309.30" stroke="#222" stroke-width="0.6"/>
<line x1="270.40" y1="304.60" x2="272.20" y2="304.60" stroke="#222" stroke-width="0.6"/>
<line x1="270.40" y1="309.30" x2="272.20" y2="309.30" stroke="#222" stroke-width="0.6"/>
<circle cx="271.30" cy="307.00" r="1.1" fill="#fff" stroke="#111" stroke-width="0.6"/>
<line x1="277.90" y1="304.60" x2="277.90" y2="309.30" stroke="#222" stroke-width="0.6"/>
<line x1="277.00" y1="304.60" x2="278.80" y2="304.60" stroke="#222" stroke-width="0.6"/>
<line x1="277.00" y1="309.30" x2="278.80" y2="309.30" stroke="#222" stroke-width="0.6"/>
<circle cx="277.90" cy="307.00" r="1.1" fill="#fff" stroke="#111" stroke-width="0.6"/>
<line x1="287.70" y1="304.60" x2="287.70" y2="309.30" stroke="#222" stroke-width="0.6"/>
<line x1="286.80" y1="304.60" x2="288.60" y2="304.60" stroke="#222" stroke-width="0.6"/>
<line x1="286.80" y1="309.30" x2="288.60" y2="309.30" stroke="#222" stroke-width="0.6"/>
<circle cx="287.70" cy="307.00" r="1.1" fill="#fff" stroke="#111" stroke-width="0.6"/>
<polyline points="215.10,304.48 215.60,304.48 216.10,304.48 216.60,304.48 217.10,304.48 217.60,304.48 218.10,304.48 218.60,304.48 219.10,304.48 219.60,304.48 220.10,304.48 220.60,304.48 221.10,304.48 221.60,304.48 222.10,304.48 222.60,304.48 223.10,304.48 223.60,304.48 224.10,304.48 224.60,304.48 225.10,304.48 225.60,304.48 226.10,304.48 226.60,304.48 227.10,304.48 227.60,304.48 228.10,304.48 228.60,304.47 229.10,304.47 229.60,304.47 230.10,304.47 230.60,304.46 231.10,304.46 231.60,304.45 232.10,304.45 232.60,304.44 233.10,304.43 233.60,304.42 234.10,304.40 234.60,304.39 235.10,304.37 235.60,304.34 236.10,304.31 236.60,304.28 237.10,304.24 237.60,304.19 238.10,304.13 238.60,304.05 239.10,303.97 239.60,303.86 240.10,303.74 240.60,303.59 241.10,303.41 241.60,303.20 242.10,302.94 242.60,302.64 243.10,302.29 243.60,301.87 244.10,301.38 244.60,300.80 245.10,300.13 245.60,299.36 246.10,298.48 246.60,297.48 247.10,296.36 247.60,295.11 248.10,293.74 248.60,292.26 249.10,290.69 249.60,289.03 250.10,287.33 250.60,285.60 251.10,283.87 251.60,282.19 252.10,280.56 252.60,279.02 253.10,277.58 253.60,276.26 254.10,275.06 254.60,273.99 255.10,273.04 255.60,272.20 256.10,271.47 256.60,270.85 257.10,270.30 257.60,269.84 258.10,269.45 258.60,269.12 259.10,268.84 259.60,268.60 260.10,268.40 260.60,268.24 261.10,268.10 261.60,267.98 262.10,267.88 262.60,267.80 263.10,267.74 263.60,267.68 264.10,267.63 264.60,267.59 265.10,267.56 265.60,267.53 266.10,267.51 266.60,267.49 267.10,267.48 267.60,267.47 268.10,267.46 268.60,267.45 269.10,267.44 269.60,267.43 270.10,267.43 270.60,267.42 271.10,267.42 271.60,267.42 272.10,267.42 272.60,267.41 273.10,267.41 273.60,267.41 274.10,267.41 274.60,267.41 275.10,267.41 275.60,267.41 276.10,267.41 276.60,267.41 277.10,267.41 277.60,267.41 278.10,267.41 278.60,267.41 279.10,267.40 279.60,267.40 280.10,267.40 280.60,267.40 281.10,267.40 281.60,267.40 282.10,267.40 282.60,267.40 283.10,267.40 283.60,267.40 284.10,267.40 284.60,267.40 285.10,267.40 285.60,267.40 286.10,267.40 286.60,267.40 287.10,267.40 287.60,267.40 288.10,267.40" fill="none" stroke="#000" stroke-width="0.9"/>
<line x1="215.10" y1="302.26" x2="215.10" y2="304.24" stroke="#111" stroke-width="0.6"/>
<line x1="214.00" y1="302.26" x2="216.20" y2="302.26" stroke="#111" stroke-width="0.6"/>
<line x1="214.00" y1="304.24" x2="216.20" y2="304.24" stroke="#111" stroke-width="0.6"/>
<circle cx="215.10" cy="303.25" r="1.5" fill="#000"/>
<line x1="222.10" y1="303.41" x2="222.10" y2="304.73" stroke="#111" stroke-width="0.6"/>
<line x1="221.00" y1="303.41" x2="223.20" y2="303.41" stroke="#111" stroke-width="0.6"/>
<line x1="221.00" y1="304.73" x2="223.20" y2="304.73" stroke="#111" stroke-width="0.6"/>
<circle cx="222.10" cy="304.07" r="1.5" fill="#000"/>
<line x1="229.50" y1="303.58" x2="229.50" y2="305.23" stroke="#111" stroke-width="0.6"/>
<line x1="228.40" y1="303.58" x2="230.60" y2="303.58" stroke="#111" stroke-width="0.6"/>
<line x1="228.40" y1="305.23" x2="230.60" y2="305.23" stroke="#111" stroke-width="0.6"/>
<circle cx="229.50" cy="304.40" r="1.5" fill="#000"/>
<line x1="236.30" y1="304.73" x2="236.30" y2="308.03" stroke="#111" stroke-width="0.6"/>
<line x1="235.20" y1="304.73" x2="237.40" y2="304.73" stroke="#111" stroke-width="0.6"/>
<line x1="235.20" y1="308.03" x2="237.40" y2="308.03" stroke="#111" stroke-width="0.6"/>
<circle cx="236.30" cy="306.38" r="1.5" fill="#000"/>
<line x1="243.40" y1="299.95" x2="243.40" y2="301.60" stroke="#111" stroke-width="0.6"/>
<line x1="242.30" y1="299.95" x2="244.50" y2="299.95" stroke="#111" stroke-width="0.6"/>
<line x1="242.30" y1="301.60" x2="244.50" y2="301.60" stroke="#111" stroke-width="0.6"/>
<circle cx="243.40" cy="300.78" r="1.5" fill="#000"/>
<line x1="249.90" y1="285.28" x2="249.90" y2="288.58" stroke="#111" stroke-width="0.6"/>
<line x1="248.80" y1="285.28" x2="251.00" y2="285.28" stroke="#111" stroke-width="0.6"/>
<line x1="248.80" y1="288.58" x2="251.00" y2="288.58" stroke="#111" stroke-width="0.6"/>
<circle cx="249.90" cy="286.93" r="1.5" fill="#000"/>
<line x1="256.90" y1="263.70" x2="256.90" y2="276.88" stroke="#111" stroke-width="0.6"/>
<line x1="255.80" y1="263.70" x2="258.00" y2="263.70" stroke="#111" stroke-width="0.6"/>
<line x1="255.80" y1="276.88" x2="258.00" y2="276.88" stroke="#111" stroke-width="0.6"/>
<circle cx="256.90" cy="270.29" r="1.5" fill="#000"/>
<line x1="263.80" y1="261.22" x2="263.80" y2="276.06" stroke="#111" stroke-width="0.6"/>
<line x1="262.70" y1="261.22" x2="264.90" y2="261.22" stroke="#111" stroke-width="0.6"/>
<line x1="262.70" y1="276.06" x2="264.90" y2="276.06" stroke="#111" stroke-width="0.6"/>
<circle cx="263.80" cy="268.64" r="1.5" fill="#000"/>
<line x1="271.00" y1="259.58" x2="271.00" y2="276.06" stroke="#111" stroke-width="0.6"/>
<line x1="269.90" y1="259.58" x2="272.10" y2="259.58" stroke="#111" stroke-width="0.6"/>
<line x1="269.90" y1="276.06" x2="272.10" y2="276.06" stroke="#111" stroke-width="0.6"/>
<circle cx="271.00" cy="267.82" r="1.5" fill="#000"/>
<line x1="277.90" y1="259.16" x2="277.90" y2="275.64" stroke="#111" stroke-width="0.6"/>
<line x1="276.80" y1="259.16" x2="279.00" y2="259.16" stroke="#111" stroke-width="0.6"/>
<line x1="276.80" y1="275.64" x2="279.00" y2="275.64" stroke="#111" stroke-width="0.6"/>
<circle cx="277.90" cy="267.40" r="1.5" fill="#000"/>
<line x1="288.20" y1="259.16" x2="288.20" y2="275.64" stroke="#111" stroke-width="0.6"/>
<line x1="287.10" y1="259.16" x2="289.30" y2="259.16" stroke="#111" stroke-width="0.6"/>
<line x1="287.10" y1="275.64" x2="289.30" y2="275.64" stroke="#111" stroke-width="0.6"/>
<circle cx="288.20" cy="267.40" r="1.5" fill="#000"/>
<line x1="347.60" y1="253.20" x2="347.60" y2="328.55" stroke="#222" stroke-width="0.8"/>
<line x1="345.80" y1="328.55" x2="347.60" y2="328.55" stroke="#222" stroke-width="0.8"/>
<text x="344.80" y="330.45" font-size="5.3" font-weight="bold" text-anchor="end" fill="#111" stroke="#111" stroke-width="0.22">-50</text>
<line x1="345.80" y1="303.50" x2="347.60" y2="303.50" stroke="#222" stroke-width="0.8"/>
<text x="344.80" y="305.40" font-size="5.3" font-weight="bold" text-anchor="end" fill="#111" stroke="#111" stroke-width="0.22">0</text>
<line x1="345.80" y1="278.45" x2="347.60" y2="278.45" stroke="#222" stroke-width="0.8"/>
<text x="344.80" y="280.35" font-size="5.3" font-weight="bold" text-anchor="end" fill="#111" stroke="#111" stroke-width="0.22">50</text>
<line x1="345.80" y1="253.40" x2="347.60" y2="253.40" stroke="#222" stroke-width="0.8"/>
<text x="344.80" y="255.30" font-size="5.3" font-weight="bold" text-anchor="end" fill="#111" stroke="#111" stroke-width="0.22">100</text>
<line x1="347.60" y1="303.50" x2="461.50" y2="303.50" stroke="#222" stroke-width="0.8"/>
<line x1="370.50" y1="303.50" x2="370.50" y2="305.10" stroke="#222" stroke-width="0.7"/>
<line x1="392.95" y1="303.50" x2="392.95" y2="305.10" stroke="#222" stroke-width="0.7"/>
<line x1="415.40" y1="303.50" x2="415.40" y2="305.10" stroke="#222" stroke-width="0.7"/>
<line x1="437.85" y1="303.50" x2="437.85" y2="305.10" stroke="#222" stroke-width="0.7"/>
<line x1="460.30" y1="303.50" x2="460.30" y2="305.10" stroke="#222" stroke-width="0.7"/>
<text x="369.60" y="312.10" font-size="5.4" font-weight="bold" text-anchor="middle" fill="#111" stroke="#111" stroke-width="0.22">0.01</text>
<text x="392.00" y="312.10" font-size="5.4" font-weight="bold" text-anchor="middle" fill="#111" stroke="#111" stroke-width="0.22">0.1</text>
<text x="415.40" y="312.10" font-size="5.4" font-weight="bold" text-anchor="middle" fill="#111" stroke="#111" stroke-width="0.22">1</text>
<text x="437.40" y="312.10" font-size="5.4" font-weight="bold" text-anchor="middle" fill="#111" stroke="#111" stroke-width="0.22">10</text>
<text x="460.00" y="312.10" font-size="5.4" font-weight="bold" text-anchor="middle" fill="#111" stroke="#111" stroke-width="0.22">100</text>
<text x="404.10" y="243.40" font-size="7.4" text-anchor="middle" fill="#000" stroke="#000" stroke-width="0.25">CHO-S LILRB2</text>
<text x="410.90" y="320.40" font-size="6.3" font-weight="bold" text-anchor="middle" fill="#111" stroke="#111" stroke-width="0.22">Primary&#160; Ab Conc. (nmol/L)</text>
<text x="329.00" y="291.00" font-size="5.9" font-weight="bold" text-anchor="middle" fill="#111" transform="rotate(-90 329.00 291.00)" stroke="#111" stroke-width="0.22">% HLA-G blocked</text>
<polyline points="351.10,297.49 351.60,297.49 352.10,297.49 352.60,297.49 353.10,297.49 353.60,297.49 354.10,297.49 354.60,297.49 355.10,297.49 355.60,297.49 356.10,297.49 356.60,297.49 357.10,297.49 357.60,297.49 358.10,297.49 358.60,297.49 359.10,297.49 359.60,297.49 360.10,297.49 360.60,297.49 361.10,297.49 361.60,297.49 362.10,297.49 362.60,297.49 363.10,297.49 363.60,297.49 364.10,297.49 364.60,297.49 365.10,297.49 365.60,297.49 366.10,297.49 366.60,297.49 367.10,297.49 367.60,297.49 368.10,297.49 368.60,297.49 369.10,297.49 369.60,297.49 370.10,297.49 370.60,297.49 371.10,297.49 371.60,297.49 372.10,297.49 372.60,297.49 373.10,297.49 373.60,297.49 374.10,297.49 374.60,297.49 375.10,297.49 375.60,297.49 376.10,297.49 376.60,297.49 377.10,297.49 377.60,297.50 378.10,297.50 378.60,297.50 379.10,297.51 379.60,297.52 380.10,297.53 380.60,297.54 381.10,297.56 381.60,297.58 382.10,297.62 382.60,297.66 383.10,297.72 383.60,297.80 384.10,297.90 384.60,298.02 385.10,298.17 385.60,298.36 386.10,298.57 386.60,298.81 387.10,299.07 387.60,299.33 388.10,299.58 388.60,299.82 389.10,300.03 389.60,300.22 390.10,300.37 390.60,300.49 391.10,300.59 391.60,300.66 392.10,300.72 392.60,300.77 393.10,300.80 393.60,300.82 394.10,300.84 394.60,300.86 395.10,300.87 395.60,300.87 396.10,300.88 396.60,300.88 397.10,300.89 397.60,300.89 398.10,300.89 398.60,300.89 399.10,300.89 399.60,300.89 400.10,300.89 400.60,300.89 401.10,300.89 401.60,300.89 402.10,300.89 402.60,300.89 403.10,300.89 403.60,300.89 404.10,300.89 404.60,300.89 405.10,300.89 405.60,300.89 406.10,300.89 406.60,300.89 407.10,300.89 407.60,300.89 408.10,300.89 408.60,300.89 409.10,300.89 409.60,300.89 410.10,300.89 410.60,300.89 411.10,300.89 411.60,300.89 412.10,300.89 412.60,300.89 413.10,300.89 413.60,300.89 414.10,300.89 414.60,300.89 415.10,300.89 415.60,300.89 416.10,300.89 416.60,300.89 417.10,300.89 417.60,300.89 418.10,300.89 418.60,300.89 419.10,300.89 419.60,300.89 420.10,300.89 420.60,300.89 421.10,300.89 421.60,300.89 422.10,300.89 422.60,300.89 423.10,300.89 423.60,300.89 424.10,300.89 424.60,300.89 425.10,300.89 425.60,300.89 426.10,300.89 426.60,300.89 427.10,300.89 427.60,300.89 428.10,300.89 428.60,300.89 429.10,300.89 429.60,300.89 430.10,300.89 430.60,300.89 431.10,300.89 431.60,300.89 432.10,300.89 432.60,300.89 433.10,300.89 433.60,300.89 434.10,300.89 434.60,300.89 435.10,300.89 435.60,300.89 436.10,300.89 436.60,300.89 437.10,300.89 437.60,300.89 438.10,300.89 438.60,300.89 439.10,300.89 439.60,300.89 440.10,300.89 440.60,300.89 441.10,300.89 441.60,300.89 442.10,300.89 442.60,300.89 443.10,300.89 443.60,300.89 444.10,300.89 444.60,300.89 445.10,300.89 445.60,300.89 446.10,300.89 446.60,300.89 447.10,300.89 447.60,300.89 448.10,300.89 448.60,300.89 449.10,300.89 449.60,300.89 450.10,300.89 450.60,300.89 451.10,300.89 451.60,300.89 452.10,300.89 452.60,300.89 453.10,300.89 453.60,300.89 454.10,300.89 454.60,300.89 455.10,300.89 455.60,300.89 456.10,300.89 456.60,300.89 457.10,300.89 457.60,300.89 458.10,300.89 458.60,300.89 459.10,300.89 459.60,300.89 460.10,300.89" fill="none" stroke="#999" stroke-width="1.3"/>
<polyline points="351.10,304.94 351.60,304.94 352.10,304.94 352.60,304.93 353.10,304.92 353.60,304.92 354.10,304.91 354.60,304.91 355.10,304.90 355.60,304.89 356.10,304.88 356.60,304.87 357.10,304.86 357.60,304.85 358.10,304.84 358.60,304.83 359.10,304.82 359.60,304.80 360.10,304.79 360.60,304.77 361.10,304.76 361.60,304.74 362.10,304.72 362.60,304.70 363.10,304.68 363.60,304.65 364.10,304.63 364.60,304.60 365.10,304.57 365.60,304.54 366.10,304.50 366.60,304.47 367.10,304.43 367.60,304.38 368.10,304.34 368.60,304.29 369.10,304.24 369.60,304.18 370.10,304.12 370.60,304.06 371.10,303.99 371.60,303.91 372.10,303.84 372.60,303.75 373.10,303.66 373.60,303.56 374.10,303.46 374.60,303.35 375.10,303.23 375.60,303.10 376.10,302.97 376.60,302.83 377.10,302.67 377.60,302.51 378.10,302.33 378.60,302.15 379.10,301.95 379.60,301.74 380.10,301.51 380.60,301.27 381.10,301.02 381.60,300.75 382.10,300.47 382.60,300.16 383.10,299.84 383.60,299.51 384.10,299.15 384.60,298.77 385.10,298.38 385.60,297.96 386.10,297.52 386.60,297.06 387.10,296.58 387.60,296.08 388.10,295.55 388.60,295.00 389.10,294.43 389.60,293.84 390.10,293.22 390.60,292.58 391.10,291.92 391.60,291.24 392.10,290.54 392.60,289.82 393.10,289.09 393.60,288.34 394.10,287.57 394.60,286.79 395.10,286.00 395.60,285.20 396.10,284.39 396.60,283.58 397.10,282.76 397.60,281.95 398.10,281.13 398.60,280.31 399.10,279.50 399.60,278.70 400.10,277.91 400.60,277.12 401.10,276.35 401.60,275.59 402.10,274.85 402.60,274.13 403.10,273.42 403.60,272.74 404.10,272.07 404.60,271.42 405.10,270.80 405.60,270.20 406.10,269.62 406.60,269.06 407.10,268.52 407.60,268.01 408.10,267.52 408.60,267.05 409.10,266.61 409.60,266.18 410.10,265.78 410.60,265.40 411.10,265.03 411.60,264.69 412.10,264.36 412.60,264.06 413.10,263.76 413.60,263.49 414.10,263.23 414.60,262.99 415.10,262.76 415.60,262.54 416.10,262.34 416.60,262.15 417.10,261.97 417.60,261.80 418.10,261.64 418.60,261.50 419.10,261.36 419.60,261.23 420.10,261.11 420.60,260.99 421.10,260.89 421.60,260.79 422.10,260.70 422.60,260.61 423.10,260.53 423.60,260.45 424.10,260.38 424.60,260.32 425.10,260.26 425.60,260.20 426.10,260.14 426.60,260.09 427.10,260.05 427.60,260.00 428.10,259.96 428.60,259.93 429.10,259.89 429.60,259.86 430.10,259.83 430.60,259.80 431.10,259.77 431.60,259.75 432.10,259.72 432.60,259.70 433.10,259.68 433.60,259.66 434.10,259.65 434.60,259.63 435.10,259.62 435.60,259.60 436.10,259.59 436.60,259.58 437.10,259.56 437.60,259.55 438.10,259.54 438.60,259.54 439.10,259.53 439.60,259.52 440.10,259.51 440.60,259.50 441.10,259.50 441.60,259.49 442.10,259.49 442.60,259.48 443.10,259.48 443.60,259.47 444.10,259.47 444.60,259.46 445.10,259.46 445.60,259.46 446.10,259.45 446.60,259.45 447.10,259.45 447.60,259.45 448.10,259.44 448.60,259.44 449.10,259.44 449.60,259.44 450.10,259.44 450.60,259.43 451.10,259.43 451.60,259.43 452.10,259.43 452.60,259.43 453.10,259.43 453.60,259.43 454.10,259.43 454.60,259.42 455.10,259.42 455.60,259.42 456.10,259.42 456.60,259.42 457.10,259.42 457.60,259.42 458.10,259.42 458.60,259.42 459.10,259.42 459.60,259.42 460.10,259.42" fill="none" stroke="#000" stroke-width="0.9"/>
<line x1="351.10" y1="292.98" x2="351.10" y2="302.00" stroke="#222" stroke-width="0.6"/>
<line x1="349.90" y1="292.98" x2="352.30" y2="292.98" stroke="#222" stroke-width="0.6"/>
<line x1="349.90" y1="302.00" x2="352.30" y2="302.00" stroke="#222" stroke-width="0.6"/>
<circle cx="351.10" cy="297.49" r="1.3" fill="#fff" stroke="#111" stroke-width="0.6"/>
<line x1="362.00" y1="288.37" x2="362.00" y2="304.40" stroke="#222" stroke-width="0.6"/>
<line x1="360.80" y1="288.37" x2="363.20" y2="288.37" stroke="#222" stroke-width="0.6"/>
<line x1="360.80" y1="304.40" x2="363.20" y2="304.40" stroke="#222" stroke-width="0.6"/>
<circle cx="362.00" cy="296.39" r="1.3" fill="#fff" stroke="#111" stroke-width="0.6"/>
<line x1="372.90" y1="298.89" x2="372.90" y2="300.89" stroke="#222" stroke-width="0.6"/>
<line x1="371.70" y1="298.89" x2="374.10" y2="298.89" stroke="#222" stroke-width="0.6"/>
<line x1="371.70" y1="300.89" x2="374.10" y2="300.89" stroke="#222" stroke-width="0.6"/>
<circle cx="372.90" cy="299.89" r="1.3" fill="#fff" stroke="#111" stroke-width="0.6"/>
<line x1="383.80" y1="300.49" x2="383.80" y2="302.50" stroke="#222" stroke-width="0.6"/>
<line x1="382.60" y1="300.49" x2="385.00" y2="300.49" stroke="#222" stroke-width="0.6"/>
<line x1="382.60" y1="302.50" x2="385.00" y2="302.50" stroke="#222" stroke-width="0.6"/>
<circle cx="383.80" cy="301.50" r="1.3" fill="#fff" stroke="#111" stroke-width="0.6"/>
<line x1="394.70" y1="299.29" x2="394.70" y2="303.30" stroke="#222" stroke-width="0.6"/>
<line x1="393.50" y1="299.29" x2="395.90" y2="299.29" stroke="#222" stroke-width="0.6"/>
<line x1="393.50" y1="303.30" x2="395.90" y2="303.30" stroke="#222" stroke-width="0.6"/>
<circle cx="394.70" cy="301.30" r="1.3" fill="#fff" stroke="#111" stroke-width="0.6"/>
<line x1="405.60" y1="295.08" x2="405.60" y2="305.10" stroke="#222" stroke-width="0.6"/>
<line x1="404.40" y1="295.08" x2="406.80" y2="295.08" stroke="#222" stroke-width="0.6"/>
<line x1="404.40" y1="305.10" x2="406.80" y2="305.10" stroke="#222" stroke-width="0.6"/>
<circle cx="405.60" cy="300.09" r="1.3" fill="#fff" stroke="#111" stroke-width="0.6"/>
<line x1="416.50" y1="300.39" x2="416.50" y2="302.40" stroke="#222" stroke-width="0.6"/>
<line x1="415.30" y1="300.39" x2="417.70" y2="300.39" stroke="#222" stroke-width="0.6"/>
<line x1="415.30" y1="302.40" x2="417.70" y2="302.40" stroke="#222" stroke-width="0.6"/>
<circle cx="416.50" cy="301.40" r="1.3" fill="#fff" stroke="#111" stroke-width="0.6"/>
<line x1="427.40" y1="297.59" x2="427.40" y2="302.60" stroke="#222" stroke-width="0.6"/>
<line x1="426.20" y1="297.59" x2="428.60" y2="297.59" stroke="#222" stroke-width="0.6"/>
<line x1="426.20" y1="302.60" x2="428.60" y2="302.60" stroke="#222" stroke-width="0.6"/>
<circle cx="427.40" cy="300.09" r="1.3" fill="#fff" stroke="#111" stroke-width="0.6"/>
<line x1="438.30" y1="299.09" x2="438.30" y2="301.10" stroke="#222" stroke-width="0.6"/>
<line x1="437.10" y1="299.09" x2="439.50" y2="299.09" stroke="#222" stroke-width="0.6"/>
<line x1="437.10" y1="301.10" x2="439.50" y2="301.10" stroke="#222" stroke-width="0.6"/>
<circle cx="438.30" cy="300.09" r="1.3" fill="#fff" stroke="#111" stroke-width="0.6"/>
<line x1="449.20" y1="297.29" x2="449.20" y2="300.29" stroke="#222" stroke-width="0.6"/>
<line x1="448.00" y1="297.29" x2="450.40" y2="297.29" stroke="#222" stroke-width="0.6"/>
<line x1="448.00" y1="300.29" x2="450.40" y2="300.29" stroke="#222" stroke-width="0.6"/>
<circle cx="449.20" cy="298.79" r="1.3" fill="#fff" stroke="#111" stroke-width="0.6"/>
<line x1="460.10" y1="294.08" x2="460.10" y2="306.11" stroke="#222" stroke-width="0.6"/>
<line x1="458.90" y1="294.08" x2="461.30" y2="294.08" stroke="#222" stroke-width="0.6"/>
<line x1="458.90" y1="306.11" x2="461.30" y2="306.11" stroke="#222" stroke-width="0.6"/>
<circle cx="460.10" cy="300.09" r="1.3" fill="#fff" stroke="#111" stroke-width="0.6"/>
<line x1="351.10" y1="301.55" x2="351.10" y2="308.26" stroke="#111" stroke-width="0.6"/>
<line x1="349.90" y1="301.55" x2="352.30" y2="301.55" stroke="#111" stroke-width="0.6"/>
<line x1="349.90" y1="308.26" x2="352.30" y2="308.26" stroke="#111" stroke-width="0.6"/>
<circle cx="351.10" cy="304.90" r="1.6" fill="#000"/>
<line x1="362.00" y1="303.85" x2="362.00" y2="305.35" stroke="#111" stroke-width="0.6"/>
<line x1="360.80" y1="303.85" x2="363.20" y2="303.85" stroke="#111" stroke-width="0.6"/>
<line x1="360.80" y1="305.35" x2="363.20" y2="305.35" stroke="#111" stroke-width="0.6"/>
<circle cx="362.00" cy="304.60" r="1.6" fill="#000"/>
<line x1="372.90" y1="303.70" x2="372.90" y2="304.70" stroke="#111" stroke-width="0.6"/>
<line x1="371.70" y1="303.70" x2="374.10" y2="303.70" stroke="#111" stroke-width="0.6"/>
<line x1="371.70" y1="304.70" x2="374.10" y2="304.70" stroke="#111" stroke-width="0.6"/>
<circle cx="372.90" cy="304.20" r="1.6" fill="#000"/>
<line x1="383.80" y1="287.17" x2="383.80" y2="307.21" stroke="#111" stroke-width="0.6"/>
<line x1="382.60" y1="287.17" x2="385.00" y2="287.17" stroke="#111" stroke-width="0.6"/>
<line x1="382.60" y1="307.21" x2="385.00" y2="307.21" stroke="#111" stroke-width="0.6"/>
<circle cx="383.80" cy="297.19" r="1.6" fill="#000"/>
<line x1="394.70" y1="285.96" x2="394.70" y2="288.97" stroke="#111" stroke-width="0.6"/>
<line x1="393.50" y1="285.96" x2="395.90" y2="285.96" stroke="#111" stroke-width="0.6"/>
<line x1="393.50" y1="288.97" x2="395.90" y2="288.97" stroke="#111" stroke-width="0.6"/>
<circle cx="394.70" cy="287.47" r="1.6" fill="#000"/>
<line x1="405.60" y1="268.93" x2="405.60" y2="270.94" stroke="#111" stroke-width="0.6"/>
<line x1="404.40" y1="268.93" x2="406.80" y2="268.93" stroke="#111" stroke-width="0.6"/>
<line x1="404.40" y1="270.94" x2="406.80" y2="270.94" stroke="#111" stroke-width="0.6"/>
<circle cx="405.60" cy="269.93" r="1.6" fill="#000"/>
<circle cx="416.50" cy="260.71" r="1.6" fill="#000"/>
<circle cx="427.40" cy="260.21" r="1.6" fill="#000"/>
<circle cx="438.30" cy="259.41" r="1.6" fill="#000"/>
<circle cx="449.20" cy="259.41" r="1.6" fill="#000"/>
<circle cx="460.10" cy="259.41" r="1.6" fill="#000"/>
<line x1="471.30" y1="248.70" x2="478.80" y2="248.70" stroke="#000" stroke-width="0.8"/>
<circle cx="475.30" cy="248.70" r="1.4" fill="#000"/>
<text x="481.40" y="250.80" font-size="6.1" font-weight="bold" text-anchor="start" fill="#111" stroke="#111" stroke-width="0.22">JTX-8064</text>
<line x1="471.30" y1="257.80" x2="478.80" y2="257.80" stroke="#000" stroke-width="0.8"/>
<circle cx="475.30" cy="257.80" r="1.2" fill="#fff" stroke="#111" stroke-width="0.6"/>
<text x="481.40" y="259.90" font-size="6.1" font-weight="bold" text-anchor="start" fill="#111" stroke="#111" stroke-width="0.22">higG4</text>
</svg>
</body></html>
